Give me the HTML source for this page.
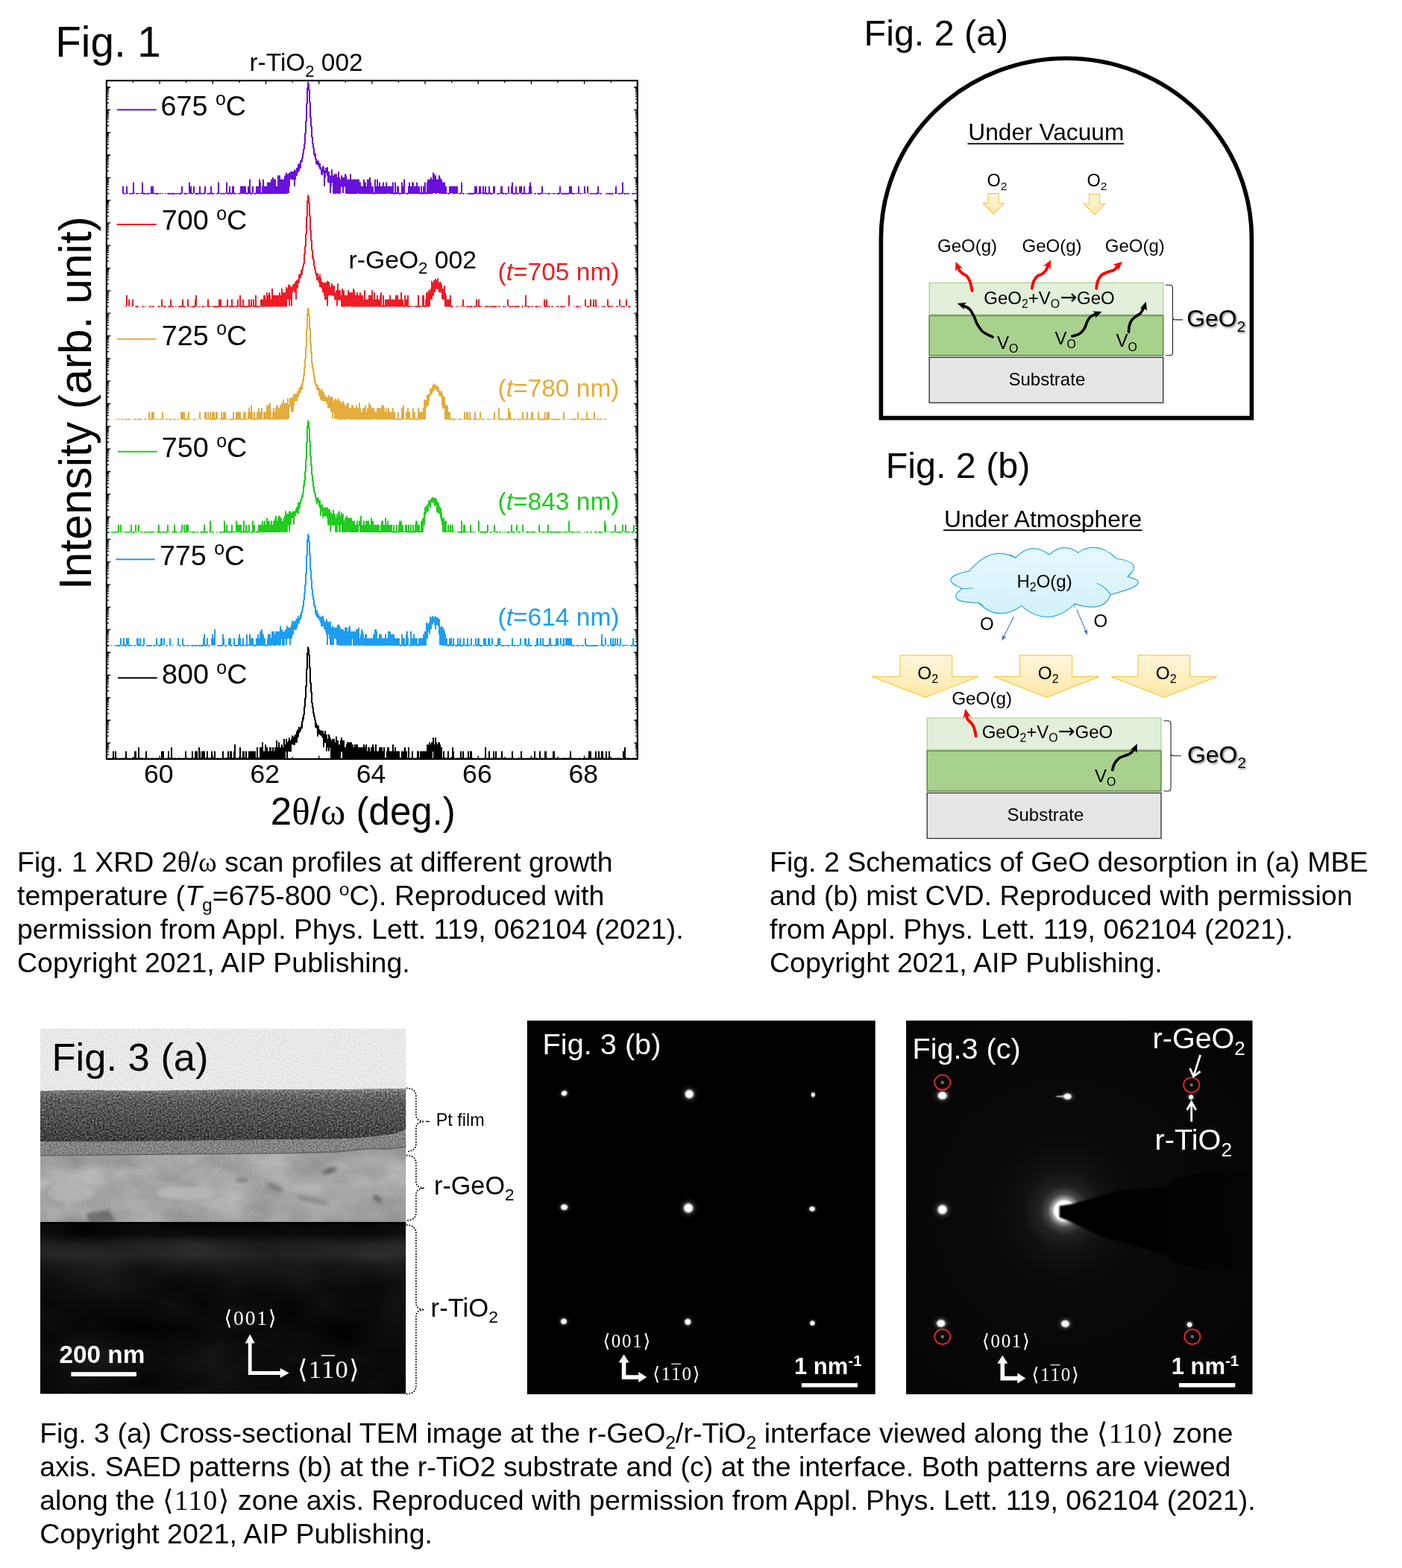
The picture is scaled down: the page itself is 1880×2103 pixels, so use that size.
<!DOCTYPE html>
<html lang="en"><head><meta charset="utf-8"><title>Figures</title>
<style>
html,body{margin:0;padding:0;background:#fff;}
body{width:1880px;height:2103px;overflow:hidden;font-family:"Liberation Sans",sans-serif;}
svg{display:block;position:absolute;left:0;top:0;}
text{white-space:pre;}
</style></head><body>
<svg width="1880" height="2103" viewBox="0 0 1880 2103" font-family='"Liberation Sans", sans-serif'>
<rect width="1880" height="2103" fill="#fff"/>
<g id="fig1" font-family='"Liberation Sans", sans-serif'>
<text x="74.3" y="76.3" font-size="56.6">Fig. 1</text>
<text x="334.5" y="95.3" font-size="33.4">r-TiO<tspan dy="7.35" font-size="22.04">2</tspan><tspan dy="-7.35"> 002</tspan></text>
<text x="467.5" y="359.8" font-size="33.7">r-GeO<tspan dy="7.41" font-size="22.24">2</tspan><tspan dy="-7.41"> 002</tspan></text>
<clipPath id="c1"><rect x="142.9" y="108.1" width="711.9" height="909.9"/></clipPath>
<g clip-path="url(#c1)">
<path d="M165 258.9V249.8V258.9H166V259.7H167V258.9V259.7M169 259.7V258.9H170V249.8V258.9H171V259.7M174 259.7V258.9V259.7H175V258.9V259.7M177 259.7V258.9V259.7H178V258.9H179V244.4V258.9H180V259.7M183 259.7V258.9V259.7H184V258.9V259.7M186 259.7V258.9V259.7h0.01M188 259.7V258.9V259.7h0.01M190 259.7V258.9H191V244.4V258.9H192V259.7H193V258.9V259.7H194V258.9V259.7H195V258.9V259.7M197 259.7V258.9V259.7H198V258.9V259.7H199V258.9V259.7H200V258.9V259.7M202 259.7V258.9H203V249.8V258.9H204V259.7V258.9H205V249.8V258.9H206V259.7H207V258.9V259.7M209 259.7V258.9V259.7H210V258.9V259.7H211V258.9V259.7H212V258.9V259.7M214 259.7V258.9V259.7h0.01M216 259.7V258.9V259.7h0.01M218 259.7V258.9V259.7h0.01M222 259.7V258.9V259.7h0.01M225 259.7V258.9V259.7H226V258.9V259.7H227V258.9V259.7H228V258.9V259.7H229V258.9V259.7H230V258.9V259.7H231V258.9V259.7H232V258.9V259.7H233V258.9V259.7H234V258.9V259.7H235V258.9V259.7M237 259.7V258.9V259.7H238V258.9V259.7M240 259.7V258.9V259.7H241V258.9V259.7H242V258.9V259.7H243V258.9H244V249.8V258.9M247 259.7V258.9V259.7H248V258.9V259.7H249V258.9V259.7H250V258.9V259.7M252 259.7V258.9V259.7h0.01M254 258.9V244.4V258.9H255V259.7V258.9H256V249.8V258.9H257V259.7H258V258.9V259.7M260 258.9V249.8V258.9h0.01M262 259.7V258.9V259.7H263V258.9V259.7H264V258.9V259.7H265V258.9V259.7H266V258.9V259.7H267V258.9H268V249.8V258.9H269V259.7H270V258.9V259.7M272 259.7V258.9V259.7H273V258.9V259.7H274V258.9H275V249.8V258.9M278 259.7V258.9V259.7H279V258.9V259.7H280V258.9V259.7H281V258.9V259.7H282V258.9H283V249.8V258.9H284V259.7H285V258.9V259.7H286V258.9V259.7M288 259.7V258.9V259.7h0.01M291 259.7V258.9V259.7H292V258.9H293V244.4V258.9H294V259.7M296 259.7V258.9V259.7H297V258.9V259.7M299 259.7V258.9V259.7H300V258.9V259.7H301V258.9V259.7M303 259.7V258.9H304V244.4V258.9H305V259.7H306V258.9V259.7H307V258.9H308V249.8V258.9H309V259.7H310V258.9V259.7H311V258.9H312V249.8V258.9H313V249.8V258.9H314V259.7H315V258.9V259.7H316V258.9V259.7M319 259.7V258.9V259.7h0.01M321 259.7V258.9V259.7H322V258.9H323V249.8V250.6H324V249.8V250.6H325V258.9V259.7V258.9H326V249.8V258.9H327V249.8V258.9H328V259.7V258.9H329V249.8V258.9H330V259.7H331V258.9V259.7H332V258.9H333V249.8V258.9H334V259.7V258.9H335V240.6V258.9H336V259.7H337V258.9V259.7H338V258.9H339V249.8V258.9M341 259.7V258.9V259.7H342V258.9V259.7H343V258.9H344V249.8V258.9H345V249.8V258.9H346V249.8V258.9H347V249.8V258.9H348V240.6V258.9H349V244.4V258.9H350V259.7H351V258.9H352V249.8V258.9H353V240.6V258.9H354V259.7V258.9H355V249.8V258.9H356V259.7V258.9H357V249.8V258.9H358V259.7V258.9H359V244.4V258.9H360V244.4V258.9H361V249.8V258.9H362V244.4V258.9H363V259.7V258.9H364V240.6V258.9H365V249.8V258.9H366V237.7V258.9H367V240.6V258.9H368V249.8V258.9H369V240.6V258.9H370V249.8V258.9H371V259.7V258.9H372V249.8V258.9H373V235.3V258.9H374V249.8V258.9H375V235.3V258.9H376V240.6V258.9H377V240.6V258.9H378V240.6V258.9H379V240.6V258.9H380V240.6V258.9H381V249.8V258.9H382V235.3V258.9H383V244.4V258.9H384V231.5V258.9H385V235.3V249.8H386V233.3V249.8H387V258.9V233.3V249.8H388V231.5V237.7H389V235.3V237.7H390V240.6V230V237.7H391V230V237.7H392V240.6V231.5V240.6H393V230V237.7H394V230V237.7H395V227.3V249.8V240.6H396V228.6V235.3H397V231.5V235.3H398V225.1V231.5H399V225.1V226.2H400V220.1V226.2H401V230V219.5V225.1H402V220.8V225.1H403V215.5V217.6H404V214.6V216.5H405V211.4H406V210V205.7H407V204.8V200.2H408V195.9V192.9H409V188.9V178.9H410V175.4V162.2H411V158.2V139.4H412V132.9V117.7H413V113.2V109.7V113.2H414V111.9V120.7H415V124.4V137.6H416V142.6V157.5H417V161V169.7H418V173.6V183.8H419V187.3V192.6H420V194.4V198.4H421V200.4V207.1H422V205.9V209.4H423V205.7V213.3H424V216V219.5H425V220.8V215V220.1H426V216V220.1H427V221.6V215.5V221.6H428V220.1V224.1H429V226.2V218.8V226.2H430V227.3V224.1V227.3H431V228.6V233.3H432V235.3V226.2V230H433V222.4V230H434V231.5V224.1V231.5H435V228.6V249.8V237.7H436V231.5H437V230V225.1V230H438V231.5H439V235.3V224.1V235.3H440V233.3V244.4H441V230V237.7H442V235.3V237.7H443V235.3V258.9V249.8H444V235.3V237.7H445V227.3V237.7H446V240.6V244.4H447V235.3V258.9H448V244.4V258.9H449V233.3V258.9H450V235.3V258.9H451V233.3V249.8H452V240.6V249.8H453V258.9V237.7V258.9H454V230V258.9H455V237.7V258.9H456V240.6V249.8H457V244.4V249.8H458V235.3V249.8H459V237.7V249.8H460V258.9V249.8H461V237.7V249.8H462V237.7V244.4H463V233.3V244.4H464V235.3V258.9H465V249.8V258.9H466V240.6V258.9H467V240.6V258.9H468V240.6V258.9H469V249.8V258.9H470V233.3V258.9H471V244.4V258.9H472V240.6V258.9H473V240.6V258.9H474V244.4V258.9H475V240.6V258.9H476V244.4V258.9H477V240.6V258.9H478V240.6V258.9H479V240.6V249.8H480V244.4V249.8H481V240.6V258.9H482V259.7V258.9H483V244.4V258.9H484V249.8V258.9H485V249.8V258.9H486V249.8V258.9H487V259.7V258.9H488V240.6V258.9H489V249.8V258.9H490V244.4V258.9H491V249.8V258.9H492V249.8V258.9H493V240.6V258.9H494V249.8V258.9H495V240.6V258.9H496V237.7V258.9H497V244.4V258.9H498V249.8V258.9H499V249.8V258.9H500V249.8V258.9H501V259.7H502V258.9H503V240.6V258.9H504V259.7V258.9H505V249.8V258.9H506V240.6V258.9H507V249.8V258.9H508V249.8V258.9H509V244.4V258.9H510V249.8V258.9H511V249.8V258.9H512V249.8V258.9H513V249.8V258.9H514V244.4V258.9H515V249.8V258.9H516V249.8V258.9H517V249.8V258.9H518V244.4V258.9H519V249.8V258.9M521 258.9V249.8V258.9H522V259.7V258.9H523V249.8V258.9H524V259.7V258.9H525V249.8V258.9H526V259.7V258.9H527V244.4V258.9H528V259.7H529V258.9H530V244.4V258.9H531V259.7H532V258.9H533V249.8V258.9H534V249.8V258.9H535V259.7H536V258.9V259.7H537V258.9V259.7H538V258.9H539V244.4V258.9H540V249.8V258.9H541V259.7V258.9H542V240.6V258.9H543V259.7M545 259.7V258.9V259.7H546V258.9V259.7H547V258.9H548V249.8V258.9H549V244.4V258.9H550V249.8V258.9H551V249.8V258.9H552V259.7V258.9H553V244.4V258.9H554V244.4V258.9H555V259.7V258.9H556V249.8V258.9H557V249.8V258.9H558V259.7V258.9H559V244.4V258.9H560V259.7V258.9H561V249.8V258.9H562V249.8V258.9H563V259.7H564V258.9H565V249.8V258.9H566V259.7H567V258.9H568V249.8V258.9H569V259.7V258.9H570V244.4V258.9H571V259.7H572V258.9H573V244.4V258.9H574V240.6V258.9H575V259.7V258.9H576V240.6V258.9H577V240.6V258.9H578V237.7V258.9H579V244.4V258.9H580V240.6V244.4H581V231.5V244.4H582V233.3V258.9V249.8H583V235.3V249.8H584V258.9V235.3V258.9H585V240.6V249.8H586V240.6V249.8H587V240.6V258.9V249.8H588V244.4V249.8H589V258.9V235.3V258.9H590V237.7V249.8H591V240.6V249.8H592V240.6V258.9H593V244.4V258.9H594V244.4V258.9H595V249.8V258.9H596V244.4V258.9H597V249.8V258.9H598V249.8V258.9H599V259.7M601 259.7V258.9V259.7H602V258.9H603V249.8V258.9M605 258.9V249.8V258.9h0.01M607 258.9V249.8V258.9H608V259.7V258.9H609V249.8V258.9H610V249.8V258.9H611V259.7V258.9H612V249.8V258.9H613V249.8V258.9M615 259.7V258.9V259.7h0.01M617 259.7V258.9V259.7H618V258.9H619V244.4V258.9M621 259.7V258.9V259.7H622V258.9V259.7M626 259.7V258.9V259.7h0.01M628 259.7V258.9V259.7H629V258.9V259.7H630V258.9V259.7H631V258.9V259.7H632V258.9V259.7H633V258.9V259.7H634V258.9V259.7H635V258.9V259.7H636V258.9H637V249.8V258.9H638V259.7V258.9H639V249.8V258.9M641 259.7V258.9V259.7H642V258.9H643V249.8V258.9H644V249.8V258.9H645V259.7M647 259.7V258.9H648V249.8V258.9H649V259.7H650V258.9H651V249.8V258.9H652V259.7H653V258.9V259.7H654V258.9V259.7H655V258.9H656V249.8V258.9H657V259.7H658V258.9V259.7H659V258.9V259.7H660V258.9V259.7M662 258.9V249.8V258.9H663V249.8V258.9M667 259.7V258.9V259.7H668V258.9V259.7H669V258.9V259.7M671 259.7V258.9H672V249.8V258.9H673V249.8V258.9H674V259.7H675V258.9V259.7H676V258.9V259.7M678 259.7V258.9V259.7H679V258.9V259.7H680V258.9V259.7M682 258.9V249.8V258.9h0.01M684 259.7V258.9V259.7h0.01M686 258.9V249.8V258.9H687V244.4V258.9H688V259.7H689V258.9V259.7H690V258.9V259.7H691V258.9H692V249.8V258.9H693V259.7H694V258.9V259.7H695V258.9V259.7M697 258.9V249.8V258.9h0.01M699 258.9V249.8V258.9H700V259.7H701V258.9V259.7H702V258.9H703V249.8V258.9H704V259.7H705V258.9V259.7H706V258.9V259.7M708 259.7V258.9V259.7H709V258.9H710V249.8V258.9H711V244.4V258.9H712V249.8V258.9H713V259.7M717 259.7V258.9V259.7H718V258.9V259.7M721 259.7V258.9V259.7H722V258.9V259.7H723V258.9V259.7H724V258.9V259.7H725V258.9V259.7H726V258.9H727V249.8V258.9M729 259.7V258.9V259.7h0.01M731 259.7V258.9V259.7h0.01M733 259.7V258.9V259.7h0.01M735 259.7V258.9V259.7H736V258.9V259.7H737V258.9V259.7M740 259.7V258.9V259.7h0.01M742 259.7V258.9V259.7H743V258.9V259.7M745 259.7V258.9V259.7h0.01M747 259.7V258.9V259.7H748V258.9V259.7H749V258.9V259.7H750V258.9H751V249.8V258.9M753 259.7V258.9V259.7H754V258.9V259.7H755V258.9V259.7H756V258.9V259.7H757V258.9V259.7H758V258.9V259.7H759V258.9V259.7H760V258.9V259.7H761V258.9V259.7H762V258.9V259.7H763V258.9H764V249.8V258.9H765V259.7V258.9H766V249.8V258.9H767V259.7H768V258.9V259.7H769V258.9V259.7M771 259.7V258.9V259.7h0.01M773 259.7V258.9V259.7h0.01M775 259.7V258.9H776V249.8V258.9M778 259.7V258.9V259.7H779V258.9V259.7M782 259.7V258.9V259.7h0.01M784 258.9V249.8V258.9H785V259.7M788 258.9V249.8V258.9h0.01M790 259.7V258.9V259.7h0.01M792 259.7V258.9V259.7H793V258.9V259.7M795 259.7V258.9V259.7H796V258.9V259.7M798 259.7V258.9V259.7H799V258.9V259.7H800V258.9V259.7H801V258.9H802V249.8V258.9H803V259.7M805 259.7V258.9V259.7H806V258.9V259.7M813 259.7V258.9V259.7H814V258.9V259.7M816 259.7V258.9V259.7H817V258.9V259.7H818V258.9V259.7H819V258.9V259.7H820V258.9V259.7H821V258.9V259.7H822V258.9V259.7M825 259.7V258.9H826V249.8V258.9M828 259.7V258.9V259.7h0.01M830 259.7V258.9V259.7H831V258.9V259.7M833 259.7V258.9V259.7H834V258.9H835V244.4V258.9M837 259.7V258.9V259.7H838V258.9V259.7H839V258.9V259.7M841 259.7V258.9V259.7H842V258.9V259.7M844 259.7V258.9V259.7h0.01M848 259.7V258.9V259.7H849V258.9V259.7H850V258.9V259.7M852 259.7V258.9V259.7h0.01" fill="none" stroke="#6a0fdc" stroke-width="2" stroke-linejoin="bevel"/>
<path d="M168 411.3V410.5V411.3h0.01M170 410.5V396V410.5h0.01M173 410.5V401.4V410.5h0.01M176 411.3V410.5V411.3h0.01M178 410.5V401.4V410.5h0.01M182 411.3V410.5V411.3H183V410.5V411.3H184V410.5V411.3H185V410.5V411.3M191 411.3V410.5V411.3H192V410.5V411.3M195 411.3V410.5V411.3h0.01M200 411.3V410.5V411.3H201V410.5V411.3M203 411.3V410.5V411.3h0.01M205 411.3V410.5V411.3H206V410.5V411.3M212 411.3V410.5V411.3H213V410.5V411.3M215 411.3V410.5V411.3h0.01M217 410.5V401.4V410.5H218V411.3M220 411.3V410.5V411.3H221V410.5V411.3H222V410.5V411.3M226 411.3V410.5V411.3H227V410.5V411.3H228V410.5H229V401.4V410.5M231 411.3V410.5V411.3H232V410.5V411.3M236 411.3V410.5V411.3h0.01M240 411.3V410.5V411.3H241V410.5V411.3H242V410.5V411.3H243V410.5V411.3H244V410.5H245V401.4V410.5H246V411.3H247V410.5V411.3H248V410.5V411.3M252 410.5V401.4V410.5H253V411.3M256 411.3V410.5V411.3h0.01M258 411.3V410.5V411.3H259V410.5V411.3H260V410.5V411.3H261V410.5H262V401.4V410.5H263V396V410.5M266 411.3V410.5V411.3h0.01M268 411.3V410.5V411.3h0.01M271 411.3V410.5V411.3H272V410.5V411.3H273V410.5V411.3M276 411.3V410.5V411.3h0.01M278 411.3V410.5H279V401.4V410.5H280V411.3H281V410.5V411.3M284 411.3V410.5V411.3h0.01M286 411.3V410.5V411.3H287V410.5V411.3H288V410.5V411.3H289V410.5V411.3H290V410.5V411.3H291V410.5V411.3H292V410.5V411.3H293V410.5H294V401.4V410.5H295V411.3V410.5H296V401.4V410.5H297V411.3H298V410.5V411.3M300 411.3V410.5V411.3H301V410.5V411.3M303 411.3V410.5V411.3H304V410.5H305V401.4V410.5H306V411.3M308 411.3V410.5V411.3H309V410.5V411.3H310V410.5H311V401.4V410.5H312V411.3H313V410.5V411.3H314V410.5V411.3M316 411.3V410.5V411.3H317V410.5V411.3H318V410.5H319V401.4V410.5M321 411.3V410.5H322V396V410.5H323V411.3H324V410.5V411.3H325V410.5H326V401.4V410.5H327V411.3H328V410.5V411.3H329V410.5V411.3H330V410.5V411.3H331V410.5V411.3H332V410.5V411.3H333V410.5H334V401.4V410.5H335V411.3H336V410.5H337V401.4V410.5M339 411.3V410.5H340V401.4V410.5H341V411.3H342V410.5H343V396V410.5H344V411.3H345V410.5V411.3H346V410.5V411.3H347V410.5V411.3H348V410.5V411.3M350 410.5V401.4V410.5H351V401.4V410.5H352V411.3V410.5H353V401.4V410.5H354V396V410.5H355V396V410.5H356V411.3V410.5H357V401.4V410.5H358V392.2V410.5H359V396V410.5H360V401.4V410.5H361V392.2V410.5H362V396V410.5H363V411.3V410.5H364V401.4V410.5H365V386.9V410.5H366V411.3V410.5H367V396V402.2H368V401.4V402.2H369V396V410.5H370V396V410.5H371V401.4V410.5H372V396V410.5H373V411.3V410.5H374V396V410.5H375V392.2V410.5H376V396V410.5H377V396V410.5H378V386.9V410.5H379V392.2V410.5H380V396V410.5H381V392.2V410.5H382V396V410.5H383V392.2V410.5H384V384.9V392.2H385V386.9V392.2H386V386.9V401.4V392.2H387V381.6V392.2H388V386.9V410.5V401.4H389V383.1V392.2H390V389.3V392.2H391V384.9V410.5V392.2H392V384.9V389.3H393V381.6V384.9H394V381.6V384.9H395V380.2V392.2V384.9H396V378.9V384.9H397V376.7V401.4V383.1H398V375.7V383.1H399V386.9V376.7V378.9H400V374V378.9H401V368.1V371.7H402V370.4V371.7H403V373.2V367.1V368.1H404V361.9V368.1H405V361.9H406V360.7V357.7H407V356.8V353.5H408V347.6V340.8H409V340.3V330.1H410V327.1V313.8H411V309.6V290.9H412V284.4V269.3H413V264.8V261.2V264.8H414V263.5V272.4H415V276.1V289.3H416V294.4V309H417V312.1V322.4H418V325.2V335.5H419V338.2V345.7H420V344.2V348.7H421V350.3V356.6H422V357.3V360.7H423V360.4V366.2H424V369.2H425V366.6V375.7V374.8H426V366.2V374.8H427V376.7V371.1V376.7H428V378.9V370.4V378.9H429V384.9V367.6V378.9H430V372.4V378.9H431V384.9H432V386.9V377.8V386.9H433V392.2V380.2V386.9H434V378.9V386.9H435V378.9V396H436V401.4V384.9V401.4H437V378.9V392.2H438V381.6V392.2H439V376.7V410.5V396H440V378.9V392.2H441V377.8V392.2H442V396V383.1V392.2H443V384.9V392.2H444V396V386.9V392.2H445V380.2V392.2H446V396V384.9V396H447V383.1V396H448V383.1V396H449V392.2V401.4H450V396H451V392.2V389.3V392.2H452V410.5V401.4H453V380.2V401.4H454V389.3V401.4H455V389.3V401.4H456V389.3V401.4H457V396V401.4H458V396V410.5H459V386.9V410.5H460V396V410.5H461V389.3V410.5H462V396V410.5H463V401.4H464V396V401.4H465V396V410.5H466V401.4V410.5H467V389.3V410.5H468V392.2V410.5H469V401.4H470V392.2V401.4H471V410.5H472V392.2V410.5H473V392.2V410.5H474V386.9V410.5H475V389.3V410.5H476V401.4V410.5H477V396V410.5H478V411.3V410.5H479V392.2V410.5H480V396V410.5H481V396V410.5H482V396V410.5H483V392.2V410.5H484V396V410.5H485V396V410.5H486V396V410.5H487V401.4V410.5H488V401.4V410.5H489V389.3V410.5H490V411.3V410.5H491V401.4V410.5H492V401.4V410.5H493V401.4V410.5H494V401.4V410.5H495V396V410.5H496V396V410.5H497V411.3V410.5H498V396V410.5H499V389.3V410.5H500V401.4V410.5H501V411.3V410.5H502V392.2V410.5H503V401.4V410.5H504V411.3V410.5H505V401.4V410.5H506V396V410.5H507V411.3V410.5H508V401.4V410.5H509V411.3V410.5H510V396V410.5H511V392.2V410.5H512V411.3H513V410.5H514V396V410.5H515V411.3H516V410.5H517V401.4V410.5H518V401.4V410.5H519V411.3V410.5H520V401.4V410.5H521V411.3V410.5H522V401.4V410.5H523V396V410.5H524V401.4V410.5H525V401.4V410.5M527 410.5V401.4V410.5H528V401.4V410.5H529V401.4V410.5H530V411.3V410.5H531V396V410.5H532V411.3V410.5H533V396V410.5H534V401.4V410.5H535V401.4V410.5H536V411.3V410.5H537V401.4V410.5H538V392.2V410.5H539V411.3V410.5H540V401.4V410.5H541V411.3H542V410.5H543V396V410.5H544V401.4V410.5H545V401.4V410.5H546V411.3V410.5H547V396V410.5H548V411.3H549V410.5V411.3M551 411.3V410.5V411.3h0.01M553 411.3V410.5V411.3h0.01M555 411.3V410.5V411.3h0.01M557 411.3V410.5V411.3H558V410.5V411.3H559V410.5V411.3H560V410.5H561V396V410.5H562V411.3H563V410.5V411.3H564V410.5V411.3M566 411.3V410.5H567V396V410.5H568V396V410.5H569V411.3H570V410.5H571V401.4V410.5H572V392.2V410.5H573V392.2V410.5H574V401.4V410.5H575V389.3V410.5H576V389.3V401.4H577V396H578V386.9V396H579V401.4V376.7V396H580V378.9V396H581V380.2V381.6H582V375.7V381.6H583V377.8V392.2V386.9H584V374V384.9H585V376.7V384.9H586V386.9V375.7V386.9H587V373.2V386.9H588V378.9V386.9H589V392.2V380.2V383.1H590V377.8V383.1H591V378.9V392.2V389.3H592V381.6V389.3H593V401.4V392.2H594V386.9V392.2H595V401.4H596V383.1V401.4H597V392.2V410.5H598V396V410.5H599V401.4V410.5H600V401.4V410.5H601V401.4V410.5H602V401.4V410.5H603V411.3V410.5H604V396V410.5H605V411.3H606V410.5V411.3H607V410.5V411.3M612 411.3V410.5V411.3h0.01M614 411.3V410.5V411.3h0.01M618 411.3V410.5V411.3h0.01M620 411.3V410.5H621V401.4V410.5M623 411.3V410.5V411.3h0.01M626 411.3V410.5V411.3H627V410.5V411.3H628V410.5V411.3M630 411.3V410.5V411.3H631V410.5V411.3H632V410.5V411.3H633V410.5V411.3M636 411.3V410.5V411.3H637V410.5V411.3H638V410.5H639V401.4V410.5M641 411.3V410.5H642V401.4V410.5H643V411.3H644V410.5V411.3M646 411.3V410.5V411.3h0.01M651 411.3V410.5V411.3H652V410.5V411.3H653V410.5V411.3H654V410.5V411.3M656 411.3V410.5V411.3H657V410.5V411.3M659 411.3V410.5V411.3H660V410.5V411.3H661V410.5V411.3H662V410.5V411.3H663V410.5V411.3H664V410.5V411.3H665V410.5V411.3M667 411.3V410.5V411.3h0.01M669 411.3V410.5V411.3H670V410.5V411.3M675 411.3V410.5V411.3H676V410.5V411.3M678 411.3V410.5V411.3h0.01M681 410.5V401.4V410.5h0.01M683 411.3V410.5V411.3H684V410.5V411.3H685V410.5V411.3M687 411.3V410.5V411.3H688V410.5V411.3M690 411.3V410.5V411.3H691V410.5V411.3H692V410.5V411.3H693V410.5V411.3H694V410.5V411.3H695V410.5V411.3H696V410.5V411.3M700 411.3V410.5V411.3H701V410.5V411.3M704 411.3V410.5H705V396V410.5H706V411.3M708 411.3V410.5V411.3H709V410.5V411.3H710V410.5V411.3M713 411.3V410.5V411.3H714V410.5V411.3M718 411.3V410.5V411.3H719V410.5V411.3H720V410.5V411.3H721V410.5V411.3M723 411.3V410.5V411.3h0.01M725 411.3V410.5V411.3h0.01M730 410.5V401.4V410.5H731V411.3H732V410.5H733V401.4V410.5H734V411.3M736 411.3V410.5V411.3H737V410.5V411.3M740 411.3V410.5V411.3H741V410.5V411.3M746 411.3V410.5V411.3h0.01M748 411.3V410.5V411.3H749V410.5V411.3M752 411.3V410.5V411.3H753V410.5V411.3H754V410.5V411.3M756 411.3V410.5V411.3H757V410.5V411.3M763 410.5V396V410.5h0.01M770 411.3V410.5V411.3h0.01M773 411.3V410.5V411.3H774V410.5V411.3H775V410.5V411.3H776V410.5V411.3M779 411.3V410.5V411.3h0.01M785 410.5V401.4V410.5h0.01M787 411.3V410.5V411.3H788V410.5V411.3H789V410.5V411.3M791 411.3V410.5H792V401.4V410.5M795 411.3V410.5H796V401.4V410.5M798 411.3V410.5H799V401.4V410.5H800V411.3M803 411.3V410.5V411.3h0.01M807 411.3V410.5V411.3h0.01M809 411.3V410.5V411.3H810V410.5V411.3M812 411.3V410.5V411.3h0.01M815 410.5V401.4V410.5H816V411.3H817V410.5V411.3H818V410.5V411.3M820 411.3V410.5V411.3H821V410.5V411.3M827 411.3V410.5V411.3H828V410.5V411.3M831 410.5V401.4V410.5h0.01M833 411.3V410.5V411.3H834V410.5V411.3M836 411.3V410.5V411.3H837V410.5V411.3M840 410.5V401.4V410.5h0.01M843 411.3V410.5V411.3H844V410.5V411.3H845V410.5V411.3" fill="none" stroke="#ee1c25" stroke-width="2" stroke-linejoin="bevel"/>
<path d="M155 562.5V561.7V562.5h0.01M158 562.5V561.7V562.5H159V561.7V562.5M163 562.5V561.7V562.5H164V561.7V562.5M166 562.5V561.7V562.5h0.01M168 562.5V561.7V562.5H169V561.7V562.5M171 562.5V561.7V562.5H172V561.7V562.5H173V561.7V562.5H174V561.7V562.5M179 562.5V561.7V562.5h0.01M181 562.5V561.7V562.5H182V561.7V562.5M184 562.5V561.7V562.5h0.01M186 562.5V561.7V562.5H187V561.7V562.5H188V561.7V562.5M190 562.5V561.7V562.5h0.01M194 562.5V561.7V562.5H195V561.7V562.5M197 562.5V561.7V562.5h0.01M200 561.7V552.6V561.7H201V562.5H202V561.7V562.5H203V561.7H204V552.6V561.7H205V562.5V561.7H206V552.6V561.7M208 562.5V561.7V562.5h0.01M210 562.5V561.7V562.5H211V561.7V562.5M213 562.5V561.7V562.5h0.01M215 562.5V561.7V562.5H216V561.7V562.5M218 561.7V552.6V561.7H219V562.5M223 562.5V561.7V562.5H224V561.7V562.5M227 562.5V561.7V562.5H228V561.7V562.5H229V561.7V562.5M232 562.5V561.7V562.5h0.01M234 562.5V561.7V562.5H235V561.7V562.5M238 562.5V561.7V562.5H239V561.7V562.5M243 561.7V552.6V561.7H244V552.6V561.7H245V562.5V561.7H246V552.6V561.7H247V552.6V561.7H248V562.5H249V561.7V562.5H250V561.7V562.5H251V561.7V562.5H252V561.7H253V552.6V561.7M255 562.5V561.7V562.5h0.01M260 562.5V561.7V562.5H261V561.7V562.5H262V561.7V562.5M265 562.5V561.7V562.5h0.01M268 561.7V552.6V561.7h0.01M270 562.5V561.7V562.5h0.01M275 561.7V552.6V561.7H276V552.6V561.7M278 562.5V561.7H279V552.6V561.7M281 562.5V561.7H282V552.6V561.7H283V562.5H284V561.7H285V552.6V561.7H286V552.6V561.7H287V552.6V561.7H288V562.5H289V561.7H290V552.6V561.7H291V552.6V561.7M294 562.5V561.7V562.5h0.01M296 562.5V561.7H297V552.6V561.7H298V562.5H299V561.7H300V552.6V561.7H301V562.5V561.7H302V552.6V561.7H303V562.5M305 562.5V561.7V562.5h0.01M307 562.5V561.7V562.5h0.01M309 562.5V561.7V562.5H310V561.7V562.5H311V561.7V562.5H312V561.7H313V552.6V561.7M315 562.5V561.7V562.5H316V561.7H317V552.6V561.7H318V562.5V561.7H319V552.6V561.7H320V552.6V561.7H321V552.6V561.7H322V552.6V561.7H323V562.5H324V561.7V562.5H325V561.7V562.5H326V561.7H327V552.6V561.7H328V562.5V561.7H329V552.6V561.7H330V562.5H331V561.7V562.5M333 561.7V552.6V561.7H334V547.2V561.7M336 561.7V552.6V561.7H337V543.4V561.7H338V552.6V561.7H339V562.5H340V561.7H341V552.6V561.7H342V562.5H343V561.7V562.5H344V561.7H345V552.6V561.7H346V552.6V561.7H347V547.2V561.7H348V552.6V561.7H349V552.6V561.7H350V562.5V561.7H351V547.2V561.7M353 562.5V561.7H354V552.6V561.7H355V552.6V561.7H356V552.6V561.7H357V552.6H358V543.4V552.6H359V561.7H360V543.4V561.7H361V552.6V561.7H362V540.5V561.7H363V552.6V561.7H364V562.5H365V561.7H366V552.6V561.7H367V547.2V561.7H368V552.6V561.7H369V552.6V561.7H370V547.2V561.7H371V543.4V561.7H372V543.4V561.7H373V547.2V561.7H374V547.2V561.7H375V547.2V561.7H376V543.4V561.7H377V547.2V561.7H378V540.5V561.7H379V540.5V561.7H380V536.1V561.7H381V540.5V561.7H382V543.4V561.7H383V540.5V561.7H384V540.5V561.7H385V540.5V543.4H386V534.3V543.4H387V547.2V561.7V547.2H388V543.4H389V534.3V543.4H390V534.3V543.4H391V552.6V532.8V547.2H392V532.8V547.2H393V552.6V532.8V543.4H394V527.9V536.1H395V529V536.1H396V538.1V532.8H397V527.9V532.8H398V538.1V532.8H399V531.4V524.4V531.4H400V532.8V525.2V527.9H401V520.4V526H402V520.4V526H403V526.9V518.3V520.4H404V516.9V520.4H405V522.9V513.8V515.3H406V509.2V510.5H407V503.5H408V501.3V492.1V492.8H409V481.3H410V477.7V465.5H411V461.2V442.2H412V435.9V420.5H413V415.9V412.5V415.9H414V414.7V423.4H415V427.3V440.5H416V445.4V460.4H417V464.1V473.5H418V475.6V487H419V488.4V493.8H420V496.9V499.6H421V502.6V505.6H422V506.9V512.5H423V511.6V516.5H424V515.3V517.8H425V517.4V522.3H426V515.7V522.3H427V523.6V520.4V523.6H428V519.9V531.4V529H429V521.6V529H430V524.4V536.1V529H431V523.6V529H432V522.3V538.1V536.1H433V529V536.1H434V538.1V526V534.3H435V529V534.3H436V536.1V538.1V536.1H437V534.3V531.4V534.3H438V540.5H439V532.8V540.5H440V534.3V547.2V543.4H441V530.1V543.4H442V547.2V532.8V538.1H443V532.8V538.1H444V536.1V552.6V547.2H445V531.4V547.2H446V534.3V561.7V543.4H447V538.1V543.4H448V552.6H449V561.7V536.1V547.2H450V534.3V547.2H451V536.1V561.7V547.2H452V540.5V547.2H453V538.1V561.7H454V534.3V561.7H455V543.4V561.7H456V538.1V561.7H457V540.5V561.7H458V540.5V561.7H459V547.2V561.7H460V538.1V561.7H461V540.5V561.7H462V547.2V561.7H463V543.4V561.7H464V543.4V561.7H465V543.4V552.6H466V540.5V552.6H467V561.7V540.5V561.7H468V547.2V552.6H469V547.2V552.6H470V547.2V561.7H471V547.2V561.7H472V543.4V552.6H473V543.4V552.6H474V547.2V561.7H475V547.2V561.7H476V547.2V561.7H477V552.6V561.7H478V543.4V561.7H479V547.2V561.7H480V552.6V561.7H481V547.2V561.7H482V540.5V561.7H483V547.2V561.7H484V552.6V561.7H485V552.6V561.7H486V552.6V561.7H487V547.2V561.7H488V547.2V561.7H489V547.2V561.7H490V543.4V561.7H491V552.6V561.7H492V562.5V561.7H493V547.2V561.7H494V552.6V561.7H495V540.5V561.7H496V547.2V561.7H497V543.4V561.7H498V547.2V561.7H499V552.6V561.7H500V547.2V561.7H501V547.2V561.7H502V552.6V561.7M504 561.7V552.6V561.7H505V562.5V561.7H506V547.2V561.7H507V562.5V561.7H508V547.2V561.7H509V562.5V561.7H510V547.2V561.7H511V552.6V561.7H512V543.4V561.7H513V562.5V561.7H514V543.4V561.7H515V547.2V561.7H516V552.6V561.7H517V562.5V561.7H518V547.2V561.7H519V562.5V561.7H520V552.6V561.7H521V547.2V561.7H522V552.6V561.7H523V552.6V561.7H524V552.6V561.7H525V552.6V561.7H526V562.5V561.7H527V547.2V561.7H528V552.6V561.7H529V552.6V561.7H530V562.5H531V561.7V562.5H532V561.7V562.5H533V561.7H534V552.6V561.7H535V562.5H536V561.7V562.5H537V561.7V562.5H538V561.7H539V547.2V561.7H540V562.5V561.7H541V543.4V561.7H542V562.5M544 562.5V561.7H545V552.6V561.7H546V552.6V561.7H547V547.2V561.7M549 561.7V552.6V561.7H550V562.5H551V561.7V562.5H552V561.7V562.5H553V561.7H554V547.2V561.7H555V552.6V561.7H556V552.6V561.7H557V562.5H558V561.7V562.5H559V561.7V562.5H560V561.7H561V547.2V561.7H562V562.5V561.7H563V552.6V561.7H564V552.6V561.7H565V552.6V561.7M567 561.7V552.6V561.7H568V547.2V561.7H569V538.1V561.7H570V536.1V547.2H571V536.1V543.4H572V538.1V543.4H573V529V543.4H574V530.1V538.1H575V529V531.4H576V527.9V530.1H577V521.6V526H578V520.4V526H579V529V520.4V524.4H580V518.3V524.4H581V515.7V521.6H582V514.5V521.6H583V522.3V518.3V518.8H584V516.5V518.8H585V516.5V523.6V522.9H586V518.3V522.9H587V524.4V517.4V524.4H588V525.2V519.9V525.2H589V523.6V530.1H590V524.4V530.1H591V524.4V530.1H592V532.8V525.2V532.8H593V527.9V543.4H594V547.2V531.4V547.2H595V531.4V547.2H596V532.8V547.2H597V540.5V561.7H598V543.4V561.7H599V552.6V561.7H600V543.4V561.7H601V552.6V561.7H602V562.5V561.7H603V552.6V561.7H604V562.5H605V561.7V562.5H606V561.7V562.5H607V561.7V562.5H608V561.7V562.5H609V561.7V562.5H610V561.7V562.5M612 562.5V561.7V562.5h0.01M615 562.5V561.7V562.5H616V561.7V562.5H617V561.7V562.5M619 562.5V561.7V562.5h0.01M622 562.5V561.7H623V552.6V561.7H624V562.5M626 561.7V552.6V561.7H627V552.6V561.7H628V562.5H629V561.7H630V552.6V561.7H631V562.5H632V561.7V562.5M635 562.5V561.7V562.5H636V561.7H637V552.6V561.7H638V562.5H639V561.7V562.5M641 562.5V561.7V562.5H642V561.7V562.5M644 561.7V552.6V561.7h0.01M646 562.5V561.7V562.5H647V561.7V562.5H648V561.7V562.5M650 562.5V561.7V562.5h0.01M654 562.5V561.7V562.5H655V561.7V562.5M657 562.5V561.7V562.5h0.01M659 562.5V561.7V562.5h0.01M662 562.5V561.7H663V552.6V561.7H664V562.5M666 562.5V561.7V562.5h0.01M669 561.7V547.2V561.7H670V562.5H671V561.7V562.5H672V561.7V562.5H673V561.7V562.5H674V561.7V562.5H675V561.7V562.5H676V561.7V562.5M678 562.5V561.7V562.5H679V561.7V562.5H680V561.7V562.5H681V561.7H682V547.2V561.7H683V562.5V561.7H684V552.6V561.7H685V562.5H686V561.7V562.5M688 562.5V561.7V562.5H689V561.7V562.5H690V561.7V562.5H691V561.7V562.5M694 562.5V561.7V562.5H695V561.7V562.5H696V561.7V562.5H697V561.7V562.5H698V561.7V562.5H699V561.7V562.5M701 561.7V552.6V561.7H702V562.5H703V561.7V562.5M705 562.5V561.7V562.5H706V561.7H707V552.6V561.7M709 562.5V561.7V562.5H710V561.7V562.5M712 562.5V561.7H713V552.6V561.7H714V552.6V561.7H715V562.5H716V561.7V562.5M718 562.5V561.7V562.5h0.01M721 562.5V561.7H722V552.6V561.7H723V562.5H724V561.7V562.5H725V561.7V562.5H726V561.7V562.5H727V561.7V562.5H728V561.7V562.5H729V561.7V562.5H730V561.7H731V552.6V561.7H732V562.5H733V561.7H734V552.6V561.7H735V562.5V561.7H736V552.6V561.7M738 562.5V561.7V562.5H739V561.7V562.5M741 562.5V561.7V562.5H742V561.7V562.5H743V561.7V562.5H744V561.7V562.5H745V561.7V562.5H746V561.7V562.5H747V561.7V562.5H748V561.7V562.5H749V561.7V562.5H750V561.7V562.5M753 562.5V561.7V562.5h0.01M755 562.5V561.7H756V552.6V561.7M758 562.5V561.7V562.5h0.01M761 562.5V561.7V562.5h0.01M763 562.5V561.7V562.5h0.01M765 562.5V561.7V562.5h0.01M767 562.5V561.7V562.5H768V561.7V562.5H769V561.7V562.5H770V561.7V562.5H771V561.7V562.5H772V561.7V562.5M774 562.5V561.7H775V552.6V561.7M778 562.5V561.7V562.5H779V561.7V562.5H780V561.7V562.5H781V561.7V562.5H782V561.7V562.5H783V561.7V562.5M785 562.5V561.7V562.5H786V561.7H787V552.6V561.7H788V562.5H789V561.7V562.5H790V561.7V562.5H791V561.7V562.5H792V561.7V562.5M794 562.5V561.7V562.5h0.01M796 562.5V561.7H797V552.6V561.7H798V562.5M801 562.5V561.7V562.5H802V561.7V562.5H803V561.7V562.5M805 562.5V561.7V562.5H806V561.7V562.5M808 562.5V561.7V562.5h0.01M811 562.5V561.7V562.5H812V561.7V562.5" fill="none" stroke="#e3ac3c" stroke-width="2" stroke-linejoin="bevel"/>
<path d="M145 713.7V712.9V713.7h0.01M147 713.7V712.9V713.7h0.01M150 713.7V712.9V713.7H151V712.9V713.7M153 713.7V712.9V713.7H154V712.9V713.7M156 713.7V712.9V713.7H157V712.9V713.7H158V712.9H159V703.8V712.9M162 712.9V703.8V712.9H163V713.7M166 713.7V712.9V713.7h0.01M168 713.7V712.9V713.7H169V712.9V713.7M171 713.7V712.9V713.7H172V712.9V713.7M174 713.7V712.9V713.7H175V712.9H176V703.8V712.9M178 713.7V712.9V713.7H179V712.9V713.7H180V712.9V713.7M182 712.9V703.8V712.9h0.01M184 713.7V712.9V713.7h0.01M186 712.9V703.8V712.9h0.01M188 713.7V712.9V713.7h0.01M190 713.7V712.9V713.7H191V712.9V713.7M194 713.7V712.9V713.7H195V712.9V713.7H196V712.9V713.7M198 713.7V712.9V713.7H199V712.9V713.7M201 713.7V712.9V713.7H202V712.9V713.7H203V712.9V713.7H204V712.9V713.7H205V712.9V713.7M207 713.7V712.9V713.7h0.01M211 713.7V712.9V713.7H212V712.9H213V703.8V712.9H214V713.7H215V712.9V713.7H216V712.9V713.7M218 713.7V712.9V713.7H219V712.9V713.7H220V712.9V713.7M222 713.7V712.9V713.7H223V712.9V713.7H224V712.9H225V703.8V712.9M227 713.7V712.9V713.7h0.01M231 713.7V712.9V713.7H232V712.9V713.7H233V712.9H234V703.8V712.9H235V713.7H236V712.9V713.7H237V712.9V713.7M240 713.7V712.9V713.7h0.01M242 713.7V712.9V713.7H243V712.9H244V703.8V712.9M247 712.9V703.8V712.9H248V713.7H249V712.9H250V703.8V712.9H251V713.7V712.9H252V703.8V712.9M254 713.7V712.9V713.7h0.01M256 713.7V712.9V713.7h0.01M258 713.7V712.9V713.7H259V712.9V713.7H260V712.9V713.7H261V712.9V713.7M264 713.7V712.9V713.7H265V712.9V713.7M269 713.7V712.9V713.7H270V712.9V713.7H271V712.9V713.7H272V712.9V713.7H273V712.9H274V703.8V712.9H275V713.7H276V712.9V713.7H277V712.9V713.7H278V712.9V713.7M281 713.7V712.9H282V698.4V712.9H283V713.7M285 713.7V712.9V713.7H286V712.9V713.7M291 713.7V712.9V713.7h0.01M295 713.7V712.9V713.7H296V712.9V713.7H297V712.9V713.7M299 713.7V712.9V713.7H300V712.9H301V698.4V712.9H302V713.7H303V712.9H304V703.8V712.9H305V713.7H306V712.9V713.7H307V712.9V713.7H308V712.9V713.7H309V712.9V713.7H310V712.9H311V703.8V712.9H312V713.7M314 713.7V712.9V713.7H315V712.9V713.7M317 712.9V698.4V712.9H318V713.7V712.9H319V703.8V712.9H320V713.7V712.9H321V703.8V712.9H322V713.7V712.9H323V703.8V712.9H324V713.7H325V712.9V713.7H326V712.9H327V698.4V712.9H328V713.7H329V712.9H330V703.8V712.9H331V713.7H332V712.9V713.7H333V712.9H334V703.8V712.9M336 713.7V712.9V713.7H337V712.9V713.7H338V712.9H339V698.4V712.9H340V713.7V712.9H341V703.8V712.9M343 713.7V712.9V713.7H344V712.9V713.7H345V712.9V713.7H346V712.9H347V703.8V712.9H348V703.8V712.9H349V713.7V712.9H350V703.8V712.9H351V713.7V712.9H352V698.4V712.9H353V713.7V712.9H354V703.8V712.9H355V698.4V712.9H356V703.8V712.9H357V713.7V712.9H358V694.6V712.9H359V713.7V712.9H360V698.4V712.9H361V698.4V712.9H362V703.8V712.9H363V713.7V712.9H364V698.4V712.9H365V703.8V712.9H366V713.7V712.9H367V698.4V712.9H368V698.4V712.9H369V694.6V712.9H370V691.7V712.9H371V703.8H372V698.4V703.8H373V694.6V712.9H374V691.7V712.9H375V691.7V712.9H376V694.6V703.8H377V694.6V703.8H378V698.4V712.9H379V698.4V712.9H380V698.4V712.9H381V694.6V712.9H382V691.7V703.8H383V685.5V703.8H384V712.9V689.3V712.9H385V691.7V703.8H386V689.3V703.8H387V694.6V703.8H388V712.9V685.5V698.4H389V685.5V698.4H390V703.8V691.7V694.6H391V687.3V694.6H392V689.3H393V685.5V689.3H394V703.8V691.7H395V685.5V691.7H396V685.5V687.3H397V682.6V687.3H398V680.2V685.5H399V679.1V685.5H400V689.3V673.5V682.6H401V673.5V680.2H402V674.1V675.6H403V671.6H404V671.1V667.7V668.1H405V663.7V667.3H406V660.4V661.1H407V650.5V652H408V644.2H409V643.1V632.4H410V629.5V616H411V612.1V593.4H412V587V571.6H413V567.2V563.7V567.2H414V565.9V574.6H415V578.5V591.8H416V596.6V611.6H417V614.8V624.2H418V627.9V636.9H419V641V645.4H420V646.7V653.2H421V652V659.2H422V659.4V662.2H423V662.8V667.3H424V666.5V672.2H425V676.4V666.9V674.1H426V671.1V672.8H427V668.1V672.8H428V674.1V678.1H429V681.3V671.1V681.3H430V676.4V691.7V685.5H431V678.1V684H432V676.4V684H433V680.2V694.6V689.3H434V681.3V689.3H435V691.7V681.3V691.7H436V680.2V691.7H437V681.3V687.3H438V681.3V687.3H439V680.2V694.6H440V687.3V703.8H441V682.6V698.4H442V684V698.4H443V689.3V712.9V694.6H444V687.3V694.6H445V691.7V703.8H446V689.3V703.8H447V684V703.8H448V694.6V703.8H449V689.3V703.8H450V698.4V712.9H451V694.6V712.9H452V689.3V703.8H453V694.6V703.8H454V687.3V703.8H455V712.9V685.5V712.9H456V694.6V703.8H457V691.7V698.4H458V687.3V698.4H459V712.9H460V689.3V712.9H461V703.8V712.9H462V698.4V712.9H463V694.6V712.9H464V698.4V703.8H465V691.7V703.8H466V694.6V712.9H467V698.4V703.8H468V694.6V703.8H469V698.4V712.9H470V694.6V712.9H471V694.6V712.9H472V698.4V712.9H473V713.7V712.9H474V698.4V712.9H475V698.4V712.9H476V703.8V712.9H477V703.8V712.9H478V703.8V712.9H479V698.4V712.9H480V703.8V704.6H481V703.8H482V698.4V703.8H483V698.4V712.9H484V691.7V712.9H485V703.8V712.9H486V703.8V712.9H487V703.8V712.9H488V698.4V712.9H489V703.8V712.9H490V703.8V712.9H491V698.4V712.9H492V698.4V712.9H493V703.8V712.9H494V698.4V712.9H495V713.7V712.9H496V703.8V712.9H497V703.8V712.9H498V694.6V712.9H499V703.8V712.9H500V698.4V712.9H501V703.8V712.9H502V703.8V712.9H503V703.8V712.9H504V703.8V712.9H505V703.8V712.9H506V703.8V712.9H507V703.8V712.9H508V703.8V712.9H509V713.7H510V712.9H511V703.8V712.9H512V698.4V712.9H513V698.4V712.9H514V713.7V712.9H515V703.8V712.9H516V713.7V712.9H517V694.6V712.9H518V703.8V712.9H519V713.7V712.9H520V698.4V712.9H521V703.8V712.9H522V713.7V712.9H523V703.8V712.9H524V713.7V712.9H525V703.8V712.9H526V713.7H527V712.9H528V703.8V712.9H529V713.7H530V712.9V713.7H531V712.9H532V703.8V712.9H533V713.7H534V712.9H535V703.8V712.9H536V698.4V712.9H537V713.7V712.9H538V698.4V712.9H539V713.7V712.9H540V703.8V712.9H541V713.7H542V712.9V713.7M544 712.9V703.8V712.9H545V703.8V712.9H546V713.7H547V712.9H548V703.8V712.9H549V713.7H550V712.9H551V703.8V712.9H552V713.7H553V712.9H554V703.8V712.9H555V713.7H556V712.9H557V703.8V712.9H558V698.4V712.9H559V698.4V712.9H560V713.7V712.9H561V703.8V712.9H562V703.8V712.9H563V713.7H564V712.9H565V698.4V712.9H566V698.4V712.9H567V694.6V703.8H568V694.6V703.8H569V687.3V689.3H570V680.2V689.3H571V684H572V682.6V678.1V682.6H573V685.5V678.1V685.5H574V675.6V677.2H575V671.1V677.2H576V676.4V678.1H577V681.3V671.1V673.5H578V669.5V670.5H579V668.1V670.5H580V674.1V666.9V673.5H581V666.9V671.6H582V667.7V671.6H583V671.1V679.1V673.5H584V668.1V673.5H585V677.2V669.5V677.2H586V672.2V687.3V679.1H587V673.5V679.1H588V674.1V687.3H589V689.3V679.1V687.3H590V680.2V687.3H591V681.3V694.6H592V698.4V687.3V698.4H593V694.6V703.8H594V698.4V712.9H595V694.6V712.9H596V703.8V712.9H597V698.4V712.9H598V698.4V712.9M600 713.7V712.9H601V703.8V712.9M603 713.7V712.9H604V703.8V712.9M606 713.7V712.9H607V703.8V712.9H608V713.7M611 713.7V712.9V713.7h0.01M614 713.7V712.9V713.7H615V712.9V713.7H616V712.9V713.7H617V712.9V713.7H618V712.9H619V698.4V712.9H620V713.7H621V712.9H622V703.8V712.9H623V703.8V712.9H624V713.7H625V712.9V713.7M627 713.7V712.9V713.7h0.01M630 713.7V712.9H631V703.8V712.9H632V713.7H633V712.9V713.7M635 713.7V712.9V713.7h0.01M637 713.7V712.9V713.7h0.01M642 712.9V698.4V712.9h0.01M644 713.7V712.9V713.7H645V712.9V713.7H646V712.9V713.7H647V712.9V713.7H648V712.9V713.7H649V712.9V713.7H650V712.9V713.7H651V712.9V713.7H652V712.9V713.7H653V712.9H654V703.8V712.9M658 713.7V712.9V713.7H659V712.9V713.7M662 713.7V712.9H663V703.8V712.9M665 713.7V712.9V713.7H666V712.9V713.7H667V712.9V713.7M670 713.7V712.9V713.7H671V712.9V713.7M674 713.7V712.9V713.7h0.01M677 713.7V712.9V713.7h0.01M680 713.7V712.9V713.7H681V712.9V713.7H682V712.9V713.7H683V712.9V713.7M685 713.7V712.9H686V703.8V712.9H687V713.7H688V712.9V713.7H689V712.9V713.7H690V712.9V713.7M693 712.9V703.8V712.9h0.01M695 713.7V712.9V713.7H696V712.9V713.7H697V712.9V713.7M701 712.9V703.8V712.9H702V713.7M706 713.7V712.9V713.7H707V712.9V713.7H708V712.9V713.7H709V712.9V713.7M711 713.7V712.9V713.7h0.01M713 713.7V712.9V713.7H714V712.9V713.7H715V712.9V713.7H716V712.9V713.7M718 713.7V712.9V713.7h0.01M723 712.9V703.8V712.9H724V713.7M726 713.7V712.9V713.7h0.01M728 713.7V712.9V713.7H729V712.9V713.7H730V712.9V713.7M733 713.7V712.9V713.7H734V712.9H735V703.8V712.9H736V713.7M738 713.7V712.9V713.7H739V712.9V713.7H740V712.9V713.7H741V712.9V713.7M743 713.7V712.9V713.7H744V712.9V713.7H745V712.9V713.7H746V712.9V713.7H747V712.9V713.7H748V712.9V713.7H749V712.9V713.7H750V712.9V713.7H751V712.9V713.7M753 713.7V712.9V713.7h0.01M755 713.7V712.9V713.7h0.01M757 713.7V712.9V713.7H758V712.9V713.7H759V712.9V713.7M761 713.7V712.9V713.7h0.01M763 712.9V698.4V712.9H764V713.7M766 713.7V712.9V713.7H767V712.9V713.7H768V712.9V713.7M770 713.7V712.9V713.7h0.01M772 713.7V712.9V713.7h0.01M774 713.7V712.9V713.7h0.01M776 713.7V712.9V713.7H777V712.9V713.7M784 713.7V712.9V713.7h0.01M787 713.7V712.9V713.7H788V712.9V713.7M792 713.7V712.9V713.7H793V712.9V713.7M798 713.7V712.9V713.7H799V712.9V713.7H800V712.9V713.7M803 713.7V712.9V713.7H804V712.9V713.7H805V712.9V713.7H806V712.9V713.7M808 713.7V712.9V713.7h0.01M811 712.9V698.4V712.9H812V703.8V712.9M814 713.7V712.9V713.7h0.01M817 713.7V712.9V713.7h0.01M819 713.7V712.9V713.7h0.01M821 713.7V712.9V713.7H822V712.9V713.7M824 713.7V712.9H825V703.8V712.9M827 713.7V712.9V713.7H828V712.9V713.7M830 713.7V712.9V713.7H831V712.9V713.7H832V712.9V713.7H833V712.9V713.7M835 712.9V703.8V712.9h0.01M838 713.7V712.9H839V703.8V712.9H840V713.7H841V712.9V713.7M843 713.7V712.9V713.7H844V712.9V713.7M847 713.7V712.9V713.7H848V712.9V713.7H849V712.9H850V703.8V712.9M853 713.7V712.9V713.7h0.01" fill="none" stroke="#1fcc1f" stroke-width="2" stroke-linejoin="bevel"/>
<path d="M145 865.9V865.1V865.9H146V865.1V865.9M149 865.9V865.1V865.9h0.01M154 865.9V865.1V865.9h0.01M156 865.9V865.1V865.9H157V865.1V865.9H158V865.1V865.9H159V865.1V865.9H160V865.1V865.9H161V865.1H162V856V865.1M164 865.9V865.1V865.9H165V865.1H166V856V865.1H167V865.9H168V865.1V865.9H169V865.1H170V856V865.1M172 865.1V856V865.1H173V865.9H174V865.1V865.9H175V865.1V865.9M177 865.9V865.1V865.9h0.01M180 865.9V865.1V865.9H181V865.1V865.9M184 865.1V856V865.1H185V856V865.1H186V865.9H187V865.1H188V856V865.1H189V865.9M191 865.9V865.1V865.9H192V865.1H193V856V865.1M197 865.9V865.1V865.9H198V865.1V865.9H199V865.1V865.9H200V865.1V865.9H201V865.1V865.9H202V865.1V865.9H203V865.1V865.9M206 865.9V865.1V865.9H207V865.1V865.9H208V865.1V865.9M210 865.1V856V865.1H211V865.9M213 865.9V865.1V865.9H214V865.1V865.9H215V865.1H216V856V865.1H217V856V865.1H218V865.9M220 865.1V856V865.1h0.01M223 865.9V865.1V865.9H224V865.1V865.9M228 865.1V856V865.1H229V865.9M232 865.9V865.1V865.9h0.01M238 865.9V865.1H239V856V865.1M241 865.9V865.1V865.9H242V865.1V865.9M245 865.1V856V865.1H246V865.9H247V865.1V865.9M249 865.9V865.1V865.9h0.01M251 865.9V865.1V865.9H252V865.1V865.9M254 865.9V865.1V865.9h0.01M257 865.9V865.1V865.9H258V865.1V865.9H259V865.1V865.9H260V865.1V865.9M262 865.9V865.1V865.9H263V865.1V865.9H264V865.1V865.9H265V865.1V865.9M267 865.9V865.1V865.9H268V865.1V865.9H269V865.1V865.9H270V865.1V865.9H271V865.1V865.9H272V865.1H273V856V865.1H274V850.6V865.1H275V865.9H276V865.1V865.9H277V865.1H278V856V865.1M280 865.9V865.1V865.9H281V865.1V865.9M284 865.1V856V865.1H285V850.6V865.1M287 865.1V856V865.1H288V843.9V865.1M292 865.9V865.1V865.9H293V865.1V865.9H294V865.1V865.9M296 865.9V865.1V865.9H297V865.1V865.9H298V865.1H299V850.6V865.1H300V856V865.1M302 865.9V865.1V865.9H303V865.1V865.9H304V865.1V865.9M307 865.1V856V865.1H308V865.9V865.1H309V856V865.1H310V865.9H311V865.1V865.9M314 865.1V856V865.1H315V865.9H316V865.1V865.9H317V865.1V865.9H318V865.1V865.9H319V865.1H320V856V865.1H321V850.6V865.1H322V856V865.1H323V865.9H324V865.1V865.9H325V865.1H326V856V865.1H327V865.9M329 865.9V865.1V865.9H330V865.1H331V850.6V865.1H332V865.9M334 865.9V865.1H335V850.6V865.1H336V856V865.1H337V856V865.1H338V856V865.1H339V856V865.1H340V865.9H341V865.1V865.9H342V865.1V865.9H343V865.1H344V856V865.1H345V865.9V865.1H346V850.6V865.1H347V856V865.1H348V856V865.1H349V846.8V865.1H350V856V865.1H351V843.9V865.1H352V850.6V865.1H353V850.6V865.1H354V856V865.1H355V856V865.1H356V865.9H357V865.1V865.9H358V865.1H359V856V865.1H360V850.6V865.1H361V850.6V865.1H362V850.6V865.1H363V856V865.1H364V856H365V846.8V856H366V850.6V865.1H367V846.8V865.1H368V850.6V865.1H369V865.9V865.1H370V846.8V856H371V850.6V856H372V846.8V865.1V856H373V850.6V856H374V846.8V865.1H375V850.6V865.1H376V839.5V856H377V843.9V856H378V843.9V856H379V846.8V865.1H380V846.8V865.1H381V846.8V856H382V846.8V856H383V843.9V856H384V846.8V865.1V856H385V839.5V856H386V841.5V850.6H387V843.9V850.6H388V856V841.5V856H389V865.1V841.5V856H390V841.5V856H391V837.7V850.6H392V832.4V850.6H393V839.5H394V833.5V839.5H395V837.7V843.9H396V832.4V843.9H397V831.3V841.5H398V829.4V837.7H399V830.3V833.5H400V825.7V833.5H401V836.2V828.6V831.3H402V828.6V830.3H403V823.8V827.8H404V820.8V822.2H405V818.3H406V816.2V812.3V813.3H407V804.6V804.7H408V796.1H409V794.9V784.5H410V780.2V768.7H411V764.2V745.5H412V739.1V723.8H413V719.3V715.9V719.3H414V718.1V726.9H415V730.7V744.2H416V748.8V763.9H417V767.1V777.3H418V781.1V790.2H419V791.5V798.2H420V799.2V804.1H421V806.9V812.6H422V811.4V814.1H423V812.1V822.7H424V825V817.9V825H425V827.8V818.3V827H426V822.2V827H427V829.4V824.4V829.4H428V825.7V829.4H429V832.4H430V834.8V827V834.8H431V839.5V827V839.5H432V831.3V836.2H433V825.7V836.2H434V839.5V830.3V839.5H435V836.2V843.9V839.5H436V833.5V839.5H437V836.2V846.8H438V850.6V830.3V850.6H439V836.2V865.1V843.9H440V833.5V843.9H441V850.6V834.8V850.6H442V856V841.5V856H443V865.1V833.5V856H444V850.6V856H445V865.1V841.5V850.6H446V839.5V850.6H447V846.8V865.1V856H448V841.5V846.8H449V841.5V846.8H450V841.5V856H451V841.5V856H452V846.8V865.1V846.8H453V843.9V837.7V843.9H454V837.7V865.1H455V839.5V850.6H456V841.5V850.6H457V865.1H458V843.9V865.1H459V846.8V865.1H460V843.9V856H461V846.8V856H462V850.6V865.1H463V841.5V865.1H464V846.8V865.1H465V841.5V865.1H466V856H467V846.8V856H468V865.1V841.5V865.1H469V839.5V865.1H470V846.8V865.1H471V846.8V856H472V846.8V856H473V846.8V856H474V846.8V865.1H475V856V865.1H476V846.8V865.1H477V850.6V865.1H478V843.9V856H479V846.8V856H480V865.1V843.9V865.1H481V841.5V865.1H482V865.9V865.1H483V856V865.1H484V850.6V856H485V843.9V856H486V846.8V865.1H487V850.6V865.1H488V856V865.1H489V865.9V865.1H490V850.6V865.1H491V850.6V865.1H492V856V865.1H493V856V865.1H494V856V865.1H495V865.9V865.1H496V856V865.1H497V856V865.1H498V865.9V865.1H499V856V865.1H500V856V865.1H501V850.6V865.1H502V856V865.1H503V843.9V865.1H504V843.9V865.1H505V846.8V865.1H506V856V865.1H507V865.9V865.1H508V856V865.1H509V850.6V865.1H510V856V865.1H511V850.6V865.1H512V856V865.1H513V856V865.1H514V865.9V865.1H515V856.8V856V856.8H516V865.1V865.9V865.1H517V850.6V865.1H518V856V865.1H519V865.9V865.1H520V856H521V846.8V856H522V865.1H523V846.8V865.1H524V865.9V865.1H525V850.6V865.1H526V850.6V865.1H527V850.6V865.1H528V850.6V865.1H529V856V865.1H530V856V865.1H531V856V865.1H532V856V865.1H533V865.9V865.1H534V856V865.1H535V856V865.1H536V865.9H537V865.1V865.9H538V865.1H539V850.6V865.1H540V856V865.1H541V856V865.1H542V856V865.1H543V865.9H544V865.1H545V850.6V865.1H546V846.8V865.1H547V856V865.1M549 865.9V865.1V865.9H550V865.1H551V846.8V865.1H552V865.9V865.1H553V856V865.1H554V865.9V865.1H555V850.6V865.1H556V856V865.1H557V865.9V865.1H558V856V865.1H559V856V865.1H560V865.9H561V865.1H562V856V865.1H563V856V865.1H564V865.9V865.1H565V856V865.1H566V856V865.1H567V865.9V865.1H568V850.6V865.1H569V850.6V865.1H570V846.8V865.1H571V850.6V856H572V834.8V856H573V841.5H574V836.2V841.5H575V837.7V846.8H576V850.6V834.8V837.7H577V827V837.7H578V843.9V828.6V836.2H579V830.3V836.2H580V837.7V826.3V833.5H581V827V833.5H582V830.3V833.5H583V837.7V827.8V837.7H584V843.9V826.3V837.7H585V832.4V837.7H586V828.6V833.5H587V827.8V833.5H588V832.4V839.5H589V830.3V850.6H590V841.5V865.1V850.6H591V843.9V850.6H592V839.5V865.1H593V843.9V865.1H594V841.5V865.1H595V843.9V865.1H596V846.8V865.1H597V850.6V865.1H598V865.9V865.1H599V856V865.1H600V865.9H601V865.1V865.9H602V865.1H603V856V865.1H604V865.9V865.1H605V856V865.1H606V865.9H607V865.1H608V856V865.1H609V865.9M611 865.9V865.1V865.9H612V865.1V865.9H613V865.1H614V856V865.1H615V865.9H616V865.1H617V856V865.1H618V865.9H619V865.1V865.9H620V865.1V865.9H621V865.1H622V856V865.1H623V865.9M625 865.9V865.1V865.9H626V865.1H627V856V865.1H628V865.9H629V865.1V865.9M631 865.9V865.1H632V856V865.1M635 865.9V865.1V865.9H636V865.1V865.9M638 865.1V856V865.1H639V865.9H640V865.1H641V856V865.1H642V856V865.1H643V865.9H644V865.1V865.9H645V865.1V865.9H646V865.1V865.9H647V865.1V865.9M649 865.1V856V865.1H650V865.9V865.1H651V856V865.1H652V865.9H653V865.1V865.9M655 865.1V856V865.1H656V856V865.1H657V865.9H658V865.1V865.9M660 865.1V856V865.1h0.01M663 865.9V865.1V865.9h0.01M665 865.9V865.1V865.9H666V865.1V865.9H667V865.1H668V856V865.1M670 865.1V856V865.1H671V865.9M673 865.9V865.1V865.9H674V865.1V865.9H675V865.1V865.9H676V865.1V865.9M678 865.9V865.1V865.9h0.01M680 865.9V865.1V865.9H681V865.1V865.9H682V865.1V865.9H683V865.1V865.9M686 865.9V865.1H687V856V865.1H688V865.9H689V865.1V865.9H690V865.1V865.9M692 865.9V865.1V865.9h0.01M694 865.9V865.1V865.9H695V865.1V865.9M697 865.9V865.1H698V856V865.1M701 865.9V865.1V865.9h0.01M704 865.1V856V865.1H705V856V865.1H706V865.9H707V865.1V865.9H708V865.1H709V856V865.1H710V865.9H711V865.1V865.9H712V865.1V865.9H713V865.1V865.9M717 865.9V865.1V865.9H718V865.1V865.9H719V865.1H720V856V865.1H721V856V865.1H722V865.9M724 865.9V865.1H725V856V865.1M727 865.9V865.1H728V856V865.1H729V865.9H730V865.1V865.9H731V865.1V865.9H732V865.1V865.9H733V865.1V865.9H734V865.1V865.9H735V865.1V865.9H736V865.1H737V856V865.1H738V856V865.1H739V865.9H740V865.1V865.9M742 865.9V865.1V865.9h0.01M744 865.9V865.1V865.9H745V865.1H746V856V865.1H747V865.9V865.1H748V856V865.1H749V865.9M752 865.1V856V865.1h0.01M754 865.9V865.1V865.9H755V865.1H756V856V865.1H757V865.9M759 865.1V856V865.1H760V856V865.1M762 865.1V856V865.1H763V865.9V865.1H764V856V865.1H765V865.9V865.1H766V856V865.1H767V865.9H768V865.1V865.9H769V865.1V865.9M772 865.9V865.1V865.9h0.01M774 865.9V865.1V865.9H775V865.1V865.9H776V865.1V865.9M779 865.9V865.1V865.9h0.01M781 865.9V865.1V865.9H782V865.1V865.9M785 865.1V856V865.1H786V865.9H787V865.1V865.9H788V865.1V865.9H789V865.1V865.9H790V865.1V865.9M792 865.9V865.1V865.9H793V865.1V865.9H794V865.1V865.9H795V865.1V865.9H796V865.1V865.9H797V865.1V865.9H798V865.1V865.9H799V865.1V865.9H800V865.1V865.9H801V865.1V865.9M803 865.9V865.1V865.9h0.01M806 865.9V865.1H807V850.6V865.1H808V865.9H809V865.1V865.9H810V865.1V865.9M812 865.1V856V865.1h0.01M815 865.9V865.1V865.9H816V865.1V865.9M819 865.1V856V865.1H820V865.9H821V865.1H822V856V865.1H823V865.9H824V865.1H825V856V865.1M827 865.9V865.1H828V856V865.1M830 865.9V865.1V865.9H831V865.1H832V856V865.1M835 865.9V865.1V865.9H836V865.1V865.9M838 865.9V865.1V865.9h0.01M840 865.9V865.1V865.9h0.01M842 865.9V865.1V865.9h0.01M846 865.9V865.1V865.9H847V865.1V865.9H848V865.1H849V856V865.1H850V865.9H851V865.1V865.9H852V865.1V865.9H853V865.1V865.9" fill="none" stroke="#1e9df0" stroke-width="2" stroke-linejoin="bevel"/>
<path d="M145 1017.5V1016.7V1017.5h0.01M147 1017.5V1016.7V1017.5h0.01M151 1017.5V1016.7H152V1007.6V1016.7M154 1017.5V1016.7H155V1007.6V1016.7H156V1017.5M158 1017.5V1016.7V1017.5h0.01M161 1017.5V1016.7V1017.5h0.01M163 1017.5V1016.7V1017.5H164V1016.7V1017.5H165V1016.7V1017.5M167 1017.5V1016.7V1017.5H168V1016.7H169V1007.6V1016.7H170V1017.5H171V1016.7V1017.5M173 1017.5V1016.7V1017.5h0.01M178 1017.5V1016.7V1017.5h0.01M180 1017.5V1016.7H181V1007.6V1016.7H182V1007.6V1016.7M184 1017.5V1016.7V1017.5H185V1016.7H186V1002.2V1016.7H187V1017.5H188V1016.7V1017.5H189V1016.7V1017.5H190V1016.7V1017.5H191V1016.7V1017.5H192V1016.7V1017.5M195 1017.5V1016.7H196V1007.6V1016.7M198 1017.5V1016.7V1017.5H199V1016.7V1017.5M203 1017.5V1016.7V1017.5h0.01M205 1017.5V1016.7V1017.5H206V1016.7V1017.5M210 1017.5V1016.7V1017.5H211V1016.7V1017.5H212V1016.7V1017.5M214 1017.5V1016.7V1017.5H215V1016.7V1017.5M217 1016.7V1007.6V1016.7h0.01M219 1016.7V1007.6V1016.7h0.01M225 1017.5V1016.7H226V1007.6V1016.7H227V1017.5H228V1016.7V1017.5H229V1016.7H230V1002.2V1016.7H231V1017.5M234 1017.5V1016.7V1017.5H235V1016.7V1017.5H236V1016.7V1017.5M239 1017.5V1016.7V1017.5H240V1016.7V1017.5H241V1016.7V1017.5H242V1016.7V1017.5M244 1017.5V1016.7V1017.5h0.01M246 1017.5V1016.7V1017.5H247V1016.7V1017.5M249 1016.7V1007.6V1016.7h0.01M252 1017.5V1016.7V1017.5H253V1016.7V1017.5M255 1017.5V1016.7V1017.5h0.01M257 1017.5V1016.7H258V1007.6V1016.7H259V1017.5H260V1016.7V1017.5M262 1016.7V1007.6V1016.7H263V1017.5V1016.7H264V1007.6V1016.7M267 1016.7V1002.2V1016.7H268V1007.6V1016.7H269V1017.5M271 1016.7V1007.6V1016.7H272V1017.5V1016.7H273V1007.6V1016.7H274V1007.6V1016.7H275V1017.5M277 1017.5V1016.7H278V1007.6V1016.7H279V1017.5H280V1016.7V1017.5H281V1016.7V1017.5H282V1016.7V1017.5H283V1016.7H284V1007.6V1016.7M286 1017.5V1016.7V1017.5H287V1016.7H288V1007.6V1016.7M291 1017.5V1016.7V1017.5H292V1016.7V1017.5H293V1016.7V1017.5M295 1017.5V1016.7V1017.5h0.01M298 1017.5V1016.7H299V1007.6V1016.7M301 1017.5V1016.7V1017.5H302V1016.7V1017.5H303V1016.7V1017.5H304V1016.7V1017.5H305V1016.7H306V1007.6V1016.7H307V1017.5H308V1016.7H309V1007.6V1016.7H310V1007.6V1016.7H311V1017.5H312V1016.7V1017.5H313V1016.7H314V1007.6V1016.7H315V998.4V1016.7H316V1017.5H317V1016.7V1017.5M319 1017.5V1016.7V1017.5h0.01M321 1017.5V1016.7H322V1002.2V1016.7H323V1017.5H324V1016.7V1017.5H325V1016.7H326V1007.6V1016.7H327V1007.6V1016.7H328V1017.5H329V1016.7H330V1007.6V1016.7M332 1017.5V1016.7V1017.5H333V1016.7H334V1007.6V1016.7H335V1007.6V1016.7H336V1007.6V1016.7H337V1007.6V1016.7H338V1007.6V1016.7H339V1007.6V1016.7H340V1017.5V1016.7H341V1007.6V1016.7H342V1007.6V1016.7H343V1017.5H344V1016.7H345V1002.2V1016.7H346V1017.5H347V1016.7V1017.5H348V1016.7H349V1002.2V1016.7H350V1017.5V1016.7H351V1002.2V1016.7H352V995.5V1016.7H353V1007.6V1016.7H354V1007.6V1016.7H355V1007.6V1016.7H356V998.4V1016.7H357V1007.6V1016.7H358V1002.2V1016.7H359V1017.5V1016.7H360V1007.6V1016.7H361V1017.5V1016.7H362V1002.2V1016.7H363V1002.2V1016.7H364V1017.5V1016.7H365V1007.6V1016.7H366V1002.2V1016.7H367V1007.6V1016.7H368V1007.6V1016.7H369V1002.2V1016.7H370V1002.2V1016.7H371V993.1V1016.7H372V1002.2V1016.7H373V1002.2V1007.6H374V995.5V1007.6H375V1002.2V1016.7H376V1002.2V1007.6H377V1002.2V1007.6H378V998.4V1016.7H379V1002.2V1016.7H380V1007.6V1016.7H381V991.1V1016.7H382V998.4V1007.6H383V998.4V1002.2H384V991.1V1002.2H385V995.5V1016.7V1007.6H386V998.4H387V993.1V998.4H388V989.3V1007.6H389V993.1V1007.6H390V993.1V995.5H391V991.1V995.5H392V998.4V986.4V995.5H393V987.8V995.5H394V998.4V991.1V998.4H395V987.8V993.1H396V985.1V993.1H397V995.5V985.1V995.5H398V981V989.3H399V978.6V987.8H400V981.9V982.9H401V974.9V981H402V975.4V980.2H403V975.4V976.6H404V972.8V976.6H405V966.9V967.8H406V961.7V964.4H407V958.4H408V957V948H409V946.6V936.6H410V931.6V920.5H411V916.4V897.2H412V890.6V875.5H413V871V867.6V871H414V869.7V878.5H415V882.3V895.4H416V900.4V915.9H417V918.8V928.3H418V931V942.8H419V944.1V948.9H420V950.8V956.2H421V957.3V961.3H422V961.9V965.7H423V966.9V974.9H424V976V969.2V976H425V971.9V976H426V975.4V987.8V978.6H427V973.3V978.6H428V979.4V984H429V985.1V979.4V985.1H430V984V986.4V984H431V979.4V984H432V981V987.8H433V989.3V980.2V989.3H434V984V1002.2V995.5H435V986.4V995.5H436V980.2V995.5H437V985.1V995.5H438V985.1V1007.6V993.9H439V993.1V993.9H440V991.1V1002.2H441V1007.6V985.1V991.1H442V987.8V991.1H443V993.1V1002.2H444V995.5V1016.7V1007.6H445V993.1V1007.6H446V1016.7V991.1V1016.7H447V993.1V1007.6H448V991.1V1007.6H449V998.4V1016.7H450V995.5V1016.7H451V987.8V1007.6H452V995.5V1007.6H453V1016.7V993.1V1016.7H454V998.4V1007.6H455V1002.2V1007.6H456V998.4V1016.7V1007.6H457V993.1V1007.6H458V989.3V1007.6H459V993.1V1007.6H460V1016.7V995.5V1016.7H461V993.1V1016.7H462V1002.2V1016.7H463V1002.2V1003H464V1002.2V1003H465V998.4V1016.7V1007.6H466V995.5V1007.6H467V1016.7V995.5V1016.7H468V1002.2V1016.7H469V995.5V1002.2H470V995.5V1002.2H471V995.5V1016.7H472V1002.2V1016.7H473V998.4V1016.7H474V1002.2V1016.7H475V1007.6V1016.7H476V998.4V1016.7H477V998.4V1016.7H478V1007.6H479V998.4V1007.6H480V1016.7H481V1002.2V1016.7H482V1002.2V1016.7H483V1002.2V1016.7H484V1007.6V1016.7H485V1002.2V1016.7H486V1002.2V1016.7H487V1017.5V1016.7H488V998.4V1016.7H489V1017.5V1016.7H490V1002.2V1016.7H491V998.4V1016.7H492V1017.5V1016.7H493V1007.6V1016.7H494V1002.2V1016.7H495V1002.2V1016.7H496V1017.5V1016.7H497V1007.6V1016.7H498V1002.2V1016.7H499V1002.2V1016.7H500V998.4V1016.7H501V1002.2V1016.7H502V1007.6V1016.7H503V1007.6V1016.7H504V998.4V1016.7H505V1007.6V1016.7H506V1007.6V1016.7H507V1017.5V1016.7H508V1007.6V1016.7H509V1002.2V1016.7H510V1007.6V1016.7H511V1002.2V1016.7H512V1002.2V1016.7H513V1007.6V1016.7H514V1017.5V1016.7H515V1002.2V1016.7H516V1017.5H517V1016.7V1017.5H518V1016.7H519V1007.6V1016.7H520V1002.2V1016.7H521V1002.2V1016.7H522V1007.6V1016.7H523V1007.6V1016.7H524V1017.5V1016.7H525V1007.6V1016.7H526V1007.6V1016.7H527V998.4V1016.7M529 1016.7V1007.6V1016.7H530V1002.2V1016.7H531V1007.6V1016.7H532V1007.6V1016.7H533V1007.6V1016.7H534V1017.5V1016.7H535V1007.6V1016.7H536V1017.5H537V1016.7V1017.5H538V1016.7H539V1007.6V1016.7H540V1017.5V1016.7H541V1007.6V1016.7M543 1016.7V1002.2V1016.7H544V1017.5V1016.7H545V1007.6V1016.7H546V1017.5M548 1016.7V1002.2V1016.7H549V1017.5H550V1016.7V1017.5H551V1016.7V1017.5H552V1016.7H553V1007.6V1016.7H554V1017.5H555V1016.7V1017.5M557 1017.5V1016.7V1017.5H558V1016.7V1017.5H559V1016.7H560V1007.6V1016.7H561V1007.6V1016.7H562V1017.5H563V1016.7H564V1007.6V1016.7H565V1017.5V1016.7H566V1007.6V1016.7H567V1007.6V1016.7H568V1007.6V1016.7M570 1016.7V1007.6V1016.7H571V1007.6V1016.7H572V1007.6V1016.7H573V998.4V1016.7H574V1007.6H575V998.4V1007.6H576V1016.7V995.5V1016.7H577V998.4V1016.7H578V1017.5V1016.7H579V995.5V1007.6H580V998.4V1002.2H581V989.3V1002.2H582V1016.7V1017.5V1016.7H583V998.4V1002.2H584V989.3V1002.2H585V995.5V1016.7H586V1002.2V1016.7H587V998.4V1016.7H588V995.5V1016.7H589V995.5V1016.7H590V998.4V1016.7H591V1007.6V1016.7H592V1002.2V1016.7H593V1017.5M595 1016.7V1007.6V1016.7H596V1017.5H597V1016.7V1017.5H598V1016.7V1017.5H599V1016.7V1017.5H600V1016.7H601V1007.6V1016.7M603 1017.5V1016.7V1017.5H604V1016.7V1017.5H605V1016.7V1017.5H606V1016.7H607V1002.2V1016.7H608V1007.6V1016.7H609V1017.5H610V1016.7V1017.5M612 1017.5V1016.7V1017.5H613V1016.7V1017.5H614V1016.7V1017.5H615V1016.7V1017.5H616V1016.7V1017.5M618 1016.7V1007.6V1016.7H619V1017.5H620V1016.7H621V1007.6V1016.7M623 1017.5V1016.7V1017.5H624V1016.7V1017.5H625V1016.7V1017.5M627 1017.5V1016.7H628V1007.6V1016.7H629V1017.5H630V1016.7H631V1007.6V1016.7H632V1007.6V1016.7H633V1017.5M635 1017.5V1016.7V1017.5h0.01M638 1017.5V1016.7V1017.5h0.01M640 1017.5V1016.7V1017.5h0.01M642 1017.5V1016.7V1017.5H643V1016.7V1017.5M645 1017.5V1016.7V1017.5h0.01M648 1017.5V1016.7V1017.5H649V1016.7V1017.5H650V1016.7H651V1002.2V1016.7H652V1017.5M654 1017.5V1016.7V1017.5h0.01M656 1016.7V1007.6V1016.7h0.01M659 1017.5V1016.7V1017.5H660V1016.7V1017.5H661V1016.7H662V1007.6V1016.7H663V1017.5H664V1016.7H665V1007.6V1016.7M667 1017.5V1016.7V1017.5H668V1016.7V1017.5H669V1016.7V1017.5H670V1016.7V1017.5H671V1016.7V1017.5H672V1016.7H673V1007.6V1016.7H674V1017.5M676 1017.5V1016.7V1017.5H677V1016.7V1017.5H678V1016.7V1017.5H679V1016.7V1017.5H680V1016.7V1017.5M683 1017.5V1016.7V1017.5H684V1016.7V1017.5H685V1016.7V1017.5M687 1016.7V1007.6V1016.7H688V1017.5H689V1016.7V1017.5M694 1017.5V1016.7V1017.5H695V1016.7V1017.5H696V1016.7V1017.5H697V1016.7V1017.5M699 1016.7V1007.6V1016.7H700V1017.5M702 1017.5V1016.7V1017.5h0.01M706 1017.5V1016.7V1017.5H707V1016.7V1017.5M709 1017.5V1016.7V1017.5H710V1016.7V1017.5H711V1016.7V1017.5M713 1017.5V1016.7V1017.5H714V1016.7V1017.5H715V1016.7V1017.5H716V1016.7H717V1007.6V1016.7M719 1017.5V1016.7V1017.5H720V1016.7V1017.5H721V1016.7V1017.5M724 1016.7V1007.6V1016.7H725V1017.5M727 1017.5V1016.7V1017.5H728V1016.7V1017.5M731 1016.7V1007.6V1016.7H732V1007.6V1016.7H733V1017.5M735 1017.5V1016.7V1017.5H736V1016.7V1017.5M739 1017.5V1016.7V1017.5H740V1016.7V1017.5H741V1016.7H742V1007.6V1016.7H743V1007.6V1016.7H744V1017.5M747 1017.5V1016.7V1017.5H748V1016.7V1017.5H749V1016.7V1017.5M751 1017.5V1016.7V1017.5h0.01M754 1017.5V1016.7V1017.5H755V1016.7V1017.5H756V1016.7V1017.5H757V1016.7V1017.5H758V1016.7V1017.5H759V1016.7V1017.5M761 1017.5V1016.7V1017.5H762V1016.7V1017.5H763V1016.7V1017.5H764V1016.7H765V1007.6V1016.7H766V1017.5M769 1017.5V1016.7V1017.5h0.01M772 1017.5V1016.7V1017.5h0.01M775 1017.5V1016.7V1017.5h0.01M777 1017.5V1016.7V1017.5H778V1016.7V1017.5M782 1017.5V1016.7V1017.5H783V1016.7V1017.5H784V1016.7V1017.5M786 1017.5V1016.7V1017.5H787V1016.7V1017.5H788V1016.7V1017.5H789V1016.7H790V1007.6V1016.7M792 1016.7V1007.6V1016.7H793V1017.5M796 1017.5V1016.7V1017.5H797V1016.7V1017.5H798V1016.7H799V1007.6V1016.7H800V1017.5H801V1016.7V1017.5M803 1016.7V1007.6V1016.7H804V1017.5H805V1016.7V1017.5H806V1016.7H807V1007.6V1016.7H808V1007.6V1016.7H809V1017.5M812 1017.5V1016.7H813V1007.6V1016.7M815 1017.5V1016.7V1017.5H816V1016.7H817V1007.6V1016.7H818V1017.5H819V1016.7V1017.5M821 1017.5V1016.7V1017.5H822V1016.7V1017.5M825 1017.5V1016.7V1017.5H826V1016.7V1017.5M828 1017.5V1016.7V1017.5H829V1016.7V1017.5H830V1016.7V1017.5H831V1016.7V1017.5H832V1016.7V1017.5M836 1016.7V1007.6V1016.7H837V1017.5V1016.7H838V1002.2V1016.7H839V1017.5M841 1017.5V1016.7V1017.5H842V1016.7V1017.5H843V1016.7V1017.5H844V1016.7V1017.5M848 1017.5V1016.7V1017.5H849V1016.7V1017.5M851 1017.5V1016.7V1017.5H852V1016.7V1017.5H853V1016.7V1017.5" fill="none" stroke="#000000" stroke-width="2" stroke-linejoin="bevel"/>
</g>
<path d="M156.7 147.3H209.7" stroke="#6a0fdc" stroke-width="2"/>
<text x="215.6" y="154.8" font-size="37.7">675 <tspan dy="-13.57" font-size="24.88">o</tspan><tspan dy="13.57">C</tspan></text>
<path d="M156.7 301.0H209.7" stroke="#ee1c25" stroke-width="2"/>
<text x="216.8" y="308.4" font-size="37.7">700 <tspan dy="-13.57" font-size="24.88">o</tspan><tspan dy="13.57">C</tspan></text>
<text x="830.5" y="376.1" font-size="33.5" text-anchor="end" fill="#ee1c25">(<tspan font-style="italic">t</tspan>=705 nm)</text>
<path d="M156.7 454.8H209.7" stroke="#e3ac3c" stroke-width="2"/>
<text x="216.8" y="462.7" font-size="37.7">725 <tspan dy="-13.57" font-size="24.88">o</tspan><tspan dy="13.57">C</tspan></text>
<text x="830.5" y="531.6" font-size="33.5" text-anchor="end" fill="#e3ac3c">(<tspan font-style="italic">t</tspan>=780 nm)</text>
<path d="M158.1 605.8H210.7" stroke="#1fcc1f" stroke-width="2"/>
<text x="216.8" y="613.4" font-size="37.7">750 <tspan dy="-13.57" font-size="24.88">o</tspan><tspan dy="13.57">C</tspan></text>
<text x="830.5" y="684.3" font-size="33.5" text-anchor="end" fill="#1fcc1f">(<tspan font-style="italic">t</tspan>=843 nm)</text>
<path d="M155.3 750.2H207.8" stroke="#1e9df0" stroke-width="2"/>
<text x="213.9" y="758.0" font-size="37.7">775 <tspan dy="-13.57" font-size="24.88">o</tspan><tspan dy="13.57">C</tspan></text>
<text x="830.5" y="839.3" font-size="33.5" text-anchor="end" fill="#1e9df0">(<tspan font-style="italic">t</tspan>=614 nm)</text>
<path d="M158.1 909.3H210.7" stroke="#000000" stroke-width="2"/>
<text x="217.0" y="917.2" font-size="37.7">800 <tspan dy="-13.57" font-size="24.88">o</tspan><tspan dy="13.57">C</tspan></text>
<rect x="142.9" y="108.1" width="711.9" height="909.9" fill="none" stroke="#000" stroke-width="2.2"/>
<path d="M178.5 108.1v3.0M178.5 1018.0v-3.0M214.1 108.1v4.6M214.1 1018.0v-4.6M249.7 108.1v3.0M249.7 1018.0v-3.0M285.3 108.1v4.6M285.3 1018.0v-4.6M320.9 108.1v3.0M320.9 1018.0v-3.0M356.5 108.1v4.6M356.5 1018.0v-4.6M392.1 108.1v3.0M392.1 1018.0v-3.0M427.7 108.1v4.6M427.7 1018.0v-4.6M463.3 108.1v3.0M463.3 1018.0v-3.0M498.9 108.1v4.6M498.9 1018.0v-4.6M534.4 108.1v3.0M534.4 1018.0v-3.0M570.0 108.1v4.6M570.0 1018.0v-4.6M605.6 108.1v3.0M605.6 1018.0v-3.0M641.2 108.1v4.6M641.2 1018.0v-4.6M676.8 108.1v3.0M676.8 1018.0v-3.0M712.4 108.1v4.6M712.4 1018.0v-4.6M748.0 108.1v3.0M748.0 1018.0v-3.0M783.6 108.1v4.6M783.6 1018.0v-4.6M819.2 108.1v3.0M819.2 1018.0v-3.0M142.9 117.0h5.4M854.8 117.0h-4.6M142.9 147.3h5.4M854.8 147.3h-4.6M142.9 138.2h3.3M854.8 138.2h-2.8M142.9 132.9h3.3M854.8 132.9h-2.8M142.9 129.1h3.3M854.8 129.1h-2.8M142.9 126.1h3.3M854.8 126.1h-2.8M142.9 123.7h3.3M854.8 123.7h-2.8M142.9 121.7h3.3M854.8 121.7h-2.8M142.9 119.9h3.3M854.8 119.9h-2.8M142.9 118.4h3.3M854.8 118.4h-2.8M142.9 177.7h5.4M854.8 177.7h-4.6M142.9 168.5h3.3M854.8 168.5h-2.8M142.9 163.2h3.3M854.8 163.2h-2.8M142.9 159.4h3.3M854.8 159.4h-2.8M142.9 156.5h3.3M854.8 156.5h-2.8M142.9 154.1h3.3M854.8 154.1h-2.8M142.9 152.0h3.3M854.8 152.0h-2.8M142.9 150.3h3.3M854.8 150.3h-2.8M142.9 148.7h3.3M854.8 148.7h-2.8M142.9 208.0h5.4M854.8 208.0h-4.6M142.9 198.8h3.3M854.8 198.8h-2.8M142.9 193.5h3.3M854.8 193.5h-2.8M142.9 189.7h3.3M854.8 189.7h-2.8M142.9 186.8h3.3M854.8 186.8h-2.8M142.9 184.4h3.3M854.8 184.4h-2.8M142.9 182.3h3.3M854.8 182.3h-2.8M142.9 180.6h3.3M854.8 180.6h-2.8M142.9 179.0h3.3M854.8 179.0h-2.8M142.9 238.3h5.4M854.8 238.3h-4.6M142.9 229.2h3.3M854.8 229.2h-2.8M142.9 223.8h3.3M854.8 223.8h-2.8M142.9 220.0h3.3M854.8 220.0h-2.8M142.9 217.1h3.3M854.8 217.1h-2.8M142.9 214.7h3.3M854.8 214.7h-2.8M142.9 212.7h3.3M854.8 212.7h-2.8M142.9 210.9h3.3M854.8 210.9h-2.8M142.9 209.4h3.3M854.8 209.4h-2.8M142.9 268.6h5.4M854.8 268.6h-4.6M142.9 259.5h3.3M854.8 259.5h-2.8M142.9 254.1h3.3M854.8 254.1h-2.8M142.9 250.4h3.3M854.8 250.4h-2.8M142.9 247.4h3.3M854.8 247.4h-2.8M142.9 245.0h3.3M854.8 245.0h-2.8M142.9 243.0h3.3M854.8 243.0h-2.8M142.9 241.2h3.3M854.8 241.2h-2.8M142.9 239.7h3.3M854.8 239.7h-2.8M142.9 298.9h5.4M854.8 298.9h-4.6M142.9 289.8h3.3M854.8 289.8h-2.8M142.9 284.5h3.3M854.8 284.5h-2.8M142.9 280.7h3.3M854.8 280.7h-2.8M142.9 277.7h3.3M854.8 277.7h-2.8M142.9 275.3h3.3M854.8 275.3h-2.8M142.9 273.3h3.3M854.8 273.3h-2.8M142.9 271.5h3.3M854.8 271.5h-2.8M142.9 270.0h3.3M854.8 270.0h-2.8M142.9 329.2h5.4M854.8 329.2h-4.6M142.9 320.1h3.3M854.8 320.1h-2.8M142.9 314.8h3.3M854.8 314.8h-2.8M142.9 311.0h3.3M854.8 311.0h-2.8M142.9 308.1h3.3M854.8 308.1h-2.8M142.9 305.7h3.3M854.8 305.7h-2.8M142.9 303.6h3.3M854.8 303.6h-2.8M142.9 301.9h3.3M854.8 301.9h-2.8M142.9 300.3h3.3M854.8 300.3h-2.8M142.9 359.6h5.4M854.8 359.6h-4.6M142.9 350.4h3.3M854.8 350.4h-2.8M142.9 345.1h3.3M854.8 345.1h-2.8M142.9 341.3h3.3M854.8 341.3h-2.8M142.9 338.4h3.3M854.8 338.4h-2.8M142.9 336.0h3.3M854.8 336.0h-2.8M142.9 333.9h3.3M854.8 333.9h-2.8M142.9 332.2h3.3M854.8 332.2h-2.8M142.9 330.6h3.3M854.8 330.6h-2.8M142.9 389.9h5.4M854.8 389.9h-4.6M142.9 380.8h3.3M854.8 380.8h-2.8M142.9 375.4h3.3M854.8 375.4h-2.8M142.9 371.6h3.3M854.8 371.6h-2.8M142.9 368.7h3.3M854.8 368.7h-2.8M142.9 366.3h3.3M854.8 366.3h-2.8M142.9 364.3h3.3M854.8 364.3h-2.8M142.9 362.5h3.3M854.8 362.5h-2.8M142.9 361.0h3.3M854.8 361.0h-2.8M142.9 420.2h5.4M854.8 420.2h-4.6M142.9 411.1h3.3M854.8 411.1h-2.8M142.9 405.7h3.3M854.8 405.7h-2.8M142.9 402.0h3.3M854.8 402.0h-2.8M142.9 399.0h3.3M854.8 399.0h-2.8M142.9 396.6h3.3M854.8 396.6h-2.8M142.9 394.6h3.3M854.8 394.6h-2.8M142.9 392.8h3.3M854.8 392.8h-2.8M142.9 391.3h3.3M854.8 391.3h-2.8M142.9 450.5h5.4M854.8 450.5h-4.6M142.9 441.4h3.3M854.8 441.4h-2.8M142.9 436.1h3.3M854.8 436.1h-2.8M142.9 432.3h3.3M854.8 432.3h-2.8M142.9 429.3h3.3M854.8 429.3h-2.8M142.9 426.9h3.3M854.8 426.9h-2.8M142.9 424.9h3.3M854.8 424.9h-2.8M142.9 423.1h3.3M854.8 423.1h-2.8M142.9 421.6h3.3M854.8 421.6h-2.8M142.9 480.8h5.4M854.8 480.8h-4.6M142.9 471.7h3.3M854.8 471.7h-2.8M142.9 466.4h3.3M854.8 466.4h-2.8M142.9 462.6h3.3M854.8 462.6h-2.8M142.9 459.7h3.3M854.8 459.7h-2.8M142.9 457.3h3.3M854.8 457.3h-2.8M142.9 455.2h3.3M854.8 455.2h-2.8M142.9 453.5h3.3M854.8 453.5h-2.8M142.9 451.9h3.3M854.8 451.9h-2.8M142.9 511.2h5.4M854.8 511.2h-4.6M142.9 502.0h3.3M854.8 502.0h-2.8M142.9 496.7h3.3M854.8 496.7h-2.8M142.9 492.9h3.3M854.8 492.9h-2.8M142.9 490.0h3.3M854.8 490.0h-2.8M142.9 487.6h3.3M854.8 487.6h-2.8M142.9 485.5h3.3M854.8 485.5h-2.8M142.9 483.8h3.3M854.8 483.8h-2.8M142.9 482.2h3.3M854.8 482.2h-2.8M142.9 541.5h5.4M854.8 541.5h-4.6M142.9 532.4h3.3M854.8 532.4h-2.8M142.9 527.0h3.3M854.8 527.0h-2.8M142.9 523.2h3.3M854.8 523.2h-2.8M142.9 520.3h3.3M854.8 520.3h-2.8M142.9 517.9h3.3M854.8 517.9h-2.8M142.9 515.9h3.3M854.8 515.9h-2.8M142.9 514.1h3.3M854.8 514.1h-2.8M142.9 512.6h3.3M854.8 512.6h-2.8M142.9 571.8h5.4M854.8 571.8h-4.6M142.9 562.7h3.3M854.8 562.7h-2.8M142.9 557.3h3.3M854.8 557.3h-2.8M142.9 553.6h3.3M854.8 553.6h-2.8M142.9 550.6h3.3M854.8 550.6h-2.8M142.9 548.2h3.3M854.8 548.2h-2.8M142.9 546.2h3.3M854.8 546.2h-2.8M142.9 544.4h3.3M854.8 544.4h-2.8M142.9 542.9h3.3M854.8 542.9h-2.8M142.9 602.1h5.4M854.8 602.1h-4.6M142.9 593.0h3.3M854.8 593.0h-2.8M142.9 587.7h3.3M854.8 587.7h-2.8M142.9 583.9h3.3M854.8 583.9h-2.8M142.9 580.9h3.3M854.8 580.9h-2.8M142.9 578.5h3.3M854.8 578.5h-2.8M142.9 576.5h3.3M854.8 576.5h-2.8M142.9 574.7h3.3M854.8 574.7h-2.8M142.9 573.2h3.3M854.8 573.2h-2.8M142.9 632.5h5.4M854.8 632.5h-4.6M142.9 623.3h3.3M854.8 623.3h-2.8M142.9 618.0h3.3M854.8 618.0h-2.8M142.9 614.2h3.3M854.8 614.2h-2.8M142.9 611.3h3.3M854.8 611.3h-2.8M142.9 608.9h3.3M854.8 608.9h-2.8M142.9 606.8h3.3M854.8 606.8h-2.8M142.9 605.1h3.3M854.8 605.1h-2.8M142.9 603.5h3.3M854.8 603.5h-2.8M142.9 662.8h5.4M854.8 662.8h-4.6M142.9 653.6h3.3M854.8 653.6h-2.8M142.9 648.3h3.3M854.8 648.3h-2.8M142.9 644.5h3.3M854.8 644.5h-2.8M142.9 641.6h3.3M854.8 641.6h-2.8M142.9 639.2h3.3M854.8 639.2h-2.8M142.9 637.1h3.3M854.8 637.1h-2.8M142.9 635.4h3.3M854.8 635.4h-2.8M142.9 633.8h3.3M854.8 633.8h-2.8M142.9 693.1h5.4M854.8 693.1h-4.6M142.9 684.0h3.3M854.8 684.0h-2.8M142.9 678.6h3.3M854.8 678.6h-2.8M142.9 674.8h3.3M854.8 674.8h-2.8M142.9 671.9h3.3M854.8 671.9h-2.8M142.9 669.5h3.3M854.8 669.5h-2.8M142.9 667.5h3.3M854.8 667.5h-2.8M142.9 665.7h3.3M854.8 665.7h-2.8M142.9 664.2h3.3M854.8 664.2h-2.8M142.9 723.4h5.4M854.8 723.4h-4.6M142.9 714.3h3.3M854.8 714.3h-2.8M142.9 708.9h3.3M854.8 708.9h-2.8M142.9 705.2h3.3M854.8 705.2h-2.8M142.9 702.2h3.3M854.8 702.2h-2.8M142.9 699.8h3.3M854.8 699.8h-2.8M142.9 697.8h3.3M854.8 697.8h-2.8M142.9 696.0h3.3M854.8 696.0h-2.8M142.9 694.5h3.3M854.8 694.5h-2.8M142.9 753.7h5.4M854.8 753.7h-4.6M142.9 744.6h3.3M854.8 744.6h-2.8M142.9 739.3h3.3M854.8 739.3h-2.8M142.9 735.5h3.3M854.8 735.5h-2.8M142.9 732.5h3.3M854.8 732.5h-2.8M142.9 730.1h3.3M854.8 730.1h-2.8M142.9 728.1h3.3M854.8 728.1h-2.8M142.9 726.3h3.3M854.8 726.3h-2.8M142.9 724.8h3.3M854.8 724.8h-2.8M142.9 784.1h5.4M854.8 784.1h-4.6M142.9 774.9h3.3M854.8 774.9h-2.8M142.9 769.6h3.3M854.8 769.6h-2.8M142.9 765.8h3.3M854.8 765.8h-2.8M142.9 762.9h3.3M854.8 762.9h-2.8M142.9 760.5h3.3M854.8 760.5h-2.8M142.9 758.4h3.3M854.8 758.4h-2.8M142.9 756.7h3.3M854.8 756.7h-2.8M142.9 755.1h3.3M854.8 755.1h-2.8M142.9 814.4h5.4M854.8 814.4h-4.6M142.9 805.2h3.3M854.8 805.2h-2.8M142.9 799.9h3.3M854.8 799.9h-2.8M142.9 796.1h3.3M854.8 796.1h-2.8M142.9 793.2h3.3M854.8 793.2h-2.8M142.9 790.8h3.3M854.8 790.8h-2.8M142.9 788.7h3.3M854.8 788.7h-2.8M142.9 787.0h3.3M854.8 787.0h-2.8M142.9 785.4h3.3M854.8 785.4h-2.8M142.9 844.7h5.4M854.8 844.7h-4.6M142.9 835.6h3.3M854.8 835.6h-2.8M142.9 830.2h3.3M854.8 830.2h-2.8M142.9 826.4h3.3M854.8 826.4h-2.8M142.9 823.5h3.3M854.8 823.5h-2.8M142.9 821.1h3.3M854.8 821.1h-2.8M142.9 819.1h3.3M854.8 819.1h-2.8M142.9 817.3h3.3M854.8 817.3h-2.8M142.9 815.8h3.3M854.8 815.8h-2.8M142.9 875.0h5.4M854.8 875.0h-4.6M142.9 865.9h3.3M854.8 865.9h-2.8M142.9 860.5h3.3M854.8 860.5h-2.8M142.9 856.8h3.3M854.8 856.8h-2.8M142.9 853.8h3.3M854.8 853.8h-2.8M142.9 851.4h3.3M854.8 851.4h-2.8M142.9 849.4h3.3M854.8 849.4h-2.8M142.9 847.6h3.3M854.8 847.6h-2.8M142.9 846.1h3.3M854.8 846.1h-2.8M142.9 905.3h5.4M854.8 905.3h-4.6M142.9 896.2h3.3M854.8 896.2h-2.8M142.9 890.9h3.3M854.8 890.9h-2.8M142.9 887.1h3.3M854.8 887.1h-2.8M142.9 884.1h3.3M854.8 884.1h-2.8M142.9 881.7h3.3M854.8 881.7h-2.8M142.9 879.7h3.3M854.8 879.7h-2.8M142.9 877.9h3.3M854.8 877.9h-2.8M142.9 876.4h3.3M854.8 876.4h-2.8M142.9 935.7h5.4M854.8 935.7h-4.6M142.9 926.5h3.3M854.8 926.5h-2.8M142.9 921.2h3.3M854.8 921.2h-2.8M142.9 917.4h3.3M854.8 917.4h-2.8M142.9 914.5h3.3M854.8 914.5h-2.8M142.9 912.1h3.3M854.8 912.1h-2.8M142.9 910.0h3.3M854.8 910.0h-2.8M142.9 908.3h3.3M854.8 908.3h-2.8M142.9 906.7h3.3M854.8 906.7h-2.8M142.9 966.0h5.4M854.8 966.0h-4.6M142.9 956.8h3.3M854.8 956.8h-2.8M142.9 951.5h3.3M854.8 951.5h-2.8M142.9 947.7h3.3M854.8 947.7h-2.8M142.9 944.8h3.3M854.8 944.8h-2.8M142.9 942.4h3.3M854.8 942.4h-2.8M142.9 940.3h3.3M854.8 940.3h-2.8M142.9 938.6h3.3M854.8 938.6h-2.8M142.9 937.0h3.3M854.8 937.0h-2.8M142.9 996.3h5.4M854.8 996.3h-4.6M142.9 987.2h3.3M854.8 987.2h-2.8M142.9 981.8h3.3M854.8 981.8h-2.8M142.9 978.0h3.3M854.8 978.0h-2.8M142.9 975.1h3.3M854.8 975.1h-2.8M142.9 972.7h3.3M854.8 972.7h-2.8M142.9 970.7h3.3M854.8 970.7h-2.8M142.9 968.9h3.3M854.8 968.9h-2.8M142.9 967.4h3.3M854.8 967.4h-2.8M142.9 1012.1h3.3M854.8 1012.1h-2.8M142.9 1008.4h3.3M854.8 1008.4h-2.8M142.9 1005.4h3.3M854.8 1005.4h-2.8M142.9 1003.0h3.3M854.8 1003.0h-2.8M142.9 1001.0h3.3M854.8 1001.0h-2.8M142.9 999.2h3.3M854.8 999.2h-2.8M142.9 997.7h3.3M854.8 997.7h-2.8" stroke="#000" stroke-width="1.3" fill="none"/>
<text x="212.8" y="1049.6" font-size="35.6" text-anchor="middle">60</text>
<text x="355.2" y="1049.6" font-size="35.6" text-anchor="middle">62</text>
<text x="497.6" y="1049.6" font-size="35.6" text-anchor="middle">64</text>
<text x="639.9" y="1049.6" font-size="35.6" text-anchor="middle">66</text>
<text x="782.3" y="1049.6" font-size="35.6" text-anchor="middle">68</text>
<text x="486.8" y="1106.4" font-size="51" text-anchor="middle">2<tspan font-family='"Liberation Serif", "DejaVu Serif", serif'>θ</tspan>/<tspan font-family='"Liberation Serif", "DejaVu Serif", serif'>ω</tspan> (deg.)</text>
<text transform="translate(122.4 540.5) rotate(-90)" font-size="60.5" text-anchor="middle">Intensity (arb. unit)</text>
</g>
<defs>
<linearGradient id="gy" x1="0" y1="0" x2="0" y2="1"><stop offset="0" stop-color="#fff5d8"/><stop offset="1" stop-color="#ffe9ad"/></linearGradient>
<linearGradient id="gy2" x1="0" y1="0" x2="0" y2="1"><stop offset="0" stop-color="#fff6dc"/><stop offset="1" stop-color="#ffe8a6"/></linearGradient>
<linearGradient id="gc" x1="0" y1="0" x2="0" y2="1"><stop offset="0" stop-color="#e6f8fd"/><stop offset="1" stop-color="#d4f1fb"/></linearGradient>
<filter id="tsh" x="-10%" y="-10%" width="130%" height="140%"><feDropShadow dx="1.5" dy="1.5" stdDeviation="1.0" flood-color="#000" flood-opacity="0.5"/></filter>
</defs>
<g id="fig2a">
<text x="1158.6" y="61.2" font-size="48.4">Fig. 2 (a)</text>
<path d="M1181.4 560.6V319.4A248.5 241.2 0 0 1 1678.4 319.4V560.6Z" fill="none" stroke="#000" stroke-width="5.6" stroke-linejoin="miter"/>
<text x="1298.3" y="188.2" font-size="31.7">Under Vacuum</text>
<rect x="1297.5" y="191.8" width="209.5" height="1.8" fill="#000"/>
<text x="1323.5" y="250" font-size="23.5">O<tspan dy="5.17" font-size="15.51">2</tspan></text>
<text x="1457.5" y="250" font-size="23.5">O<tspan dy="5.17" font-size="15.51">2</tspan></text>
<path d="M1325.2 259.6H1339.2V272.5H1346.5L1332.2 287.0L1318.0 272.5H1325.2Z" fill="url(#gy)" stroke="#f7c24a" stroke-width="1.1" stroke-linejoin="miter"/>
<path d="M1460.6 260.4H1474.6V273.3H1481.8L1467.6 287.8L1453.3 273.3H1460.6Z" fill="url(#gy)" stroke="#f7c24a" stroke-width="1.1" stroke-linejoin="miter"/>
<text x="1257" y="338.3" font-size="24">GeO(g)</text>
<text x="1370.5" y="338.3" font-size="24">GeO(g)</text>
<text x="1481.8" y="338.3" font-size="24">GeO(g)</text>
<rect x="1246.1" y="379.3" width="313.6" height="42.5" fill="#e2efda" stroke="#a9d18e" stroke-width="1.2"/><rect x="1246.1" y="423.3" width="313.6" height="53.4" fill="#a9d18e" stroke="#5f8049" stroke-width="1.5"/><rect x="1246.1" y="479.3" width="313.6" height="60.9" fill="#e7e6e6" stroke="#2b2b2b" stroke-width="1.3"/>
<text x="1319.3" y="407.8" font-size="24">GeO<tspan dy="5.28" font-size="15.84">2</tspan><tspan dy="-5.28">+V</tspan><tspan dy="5.28" font-size="15.84">O</tspan><tspan dy="-5.28" font-family='"DejaVu Sans", sans-serif' font-size="27.36">→</tspan>GeO</text>
<text x="1352.5" y="516.7" font-size="24">Substrate</text>
<path d="M1303.6 389.8C1303.1 387.8 1302.0 381.2 1300.8 378.0C1299.6 374.8 1298.2 372.4 1296.5 370.5C1294.8 368.6 1292.2 367.8 1290.5 366.5C1288.8 365.2 1287.2 363.6 1286.3 362.5C1285.4 361.4 1285.4 360.3 1285.2 359.8" fill="none" stroke="#ff0000" stroke-width="3.9" stroke-linecap="round"/><path d="M1281.6 350.9L1291.2 360.0L1284.8 358.9L1281.0 364.1Z" fill="#ff0000"/>
<path d="M1383.8 386.7C1384.2 385.1 1385.0 379.7 1386.2 377.0C1387.4 374.3 1389.1 372.1 1391.0 370.5C1392.9 368.9 1395.6 368.6 1397.5 367.3C1399.4 366.0 1401.3 364.2 1402.5 362.5C1403.7 360.8 1404.4 358.1 1404.8 357.2" fill="none" stroke="#ff0000" stroke-width="3.9" stroke-linecap="round"/><path d="M1409.3 348.7L1408.5 361.9L1405.2 356.3L1398.8 356.7Z" fill="#ff0000"/>
<path d="M1470.2 386.7C1470.5 385.1 1470.9 379.9 1472.0 377.0C1473.1 374.1 1474.8 371.0 1477.0 369.0C1479.2 367.0 1482.2 366.2 1485.0 365.0C1487.8 363.8 1491.9 363.3 1494.0 362.0C1496.1 360.7 1497.1 358.1 1497.8 357.3" fill="none" stroke="#ff0000" stroke-width="3.9" stroke-linecap="round"/><path d="M1504.9 350.9L1499.7 363.0L1498.5 356.7L1492.3 354.8Z" fill="#ff0000"/>
<path d="M1331.1 452.0C1328.9 450.8 1321.5 448.0 1318.0 445.0C1314.5 442.0 1312.0 437.5 1310.0 434.0C1308.0 430.5 1307.7 427.2 1306.0 424.0C1304.3 420.8 1302.2 416.8 1300.0 414.5C1297.8 412.2 1294.3 411.3 1293.0 410.5C1291.7 409.7 1292.5 409.9 1292.3 409.7" fill="none" stroke="#000" stroke-width="3.6" stroke-linecap="round"/><path d="M1283.6 406.9L1296.1 405.7L1291.5 409.5L1293.0 415.2Z" fill="#000"/>
<path d="M1437.7 450.9C1439.2 450.4 1444.3 449.6 1447.0 448.0C1449.7 446.4 1452.2 443.8 1454.0 441.0C1455.8 438.2 1456.6 433.8 1458.0 431.0C1459.4 428.2 1460.7 426.1 1462.5 424.5C1464.3 422.9 1467.9 422.0 1469.0 421.5C1470.1 421.0 1469.0 421.4 1469.0 421.3" fill="none" stroke="#000" stroke-width="3.6" stroke-linecap="round"/><path d="M1477.5 417.9L1468.7 426.8L1469.8 421.0L1465.0 417.6Z" fill="#000"/>
<path d="M1513.5 445.4C1513.6 444.0 1513.6 439.6 1514.3 437.0C1515.0 434.4 1516.0 431.6 1517.5 429.5C1519.0 427.4 1521.0 426.1 1523.0 424.5C1525.0 422.9 1527.8 421.8 1529.5 420.0C1531.2 418.2 1532.3 415.1 1533.0 414.0C1533.7 412.9 1533.8 413.4 1534.0 413.2" fill="none" stroke="#000" stroke-width="3.6" stroke-linecap="round"/><path d="M1536.8 404.5L1538.0 417.0L1534.2 412.4L1528.5 413.9Z" fill="#000"/>
<text x="1337" y="467.5" font-size="24">V<tspan dy="5.28" font-size="15.84">O</tspan></text>
<text x="1414.5" y="461.8" font-size="24">V<tspan dy="5.28" font-size="15.84">O</tspan></text>
<text x="1496.5" y="465.4" font-size="24">V<tspan dy="5.28" font-size="15.84">O</tspan></text>
<path d="M1563 382.3h5.5q4 0 4 4V424.9q0 4 4 4H1586M1572.5 432.9V472.7q0 4 -4 4h-5.5M1572.5 424.9v8" fill="none" stroke="#222" stroke-width="1.1"/>
<text x="1591.3" y="437.8" font-size="31.8" filter="url(#tsh)">GeO<tspan dy="7.00" font-size="20.99">2</tspan></text>
</g>
<g id="fig2b">
<text x="1187.7" y="640.8" font-size="48.4">Fig. 2 (b)</text>
<text x="1266" y="706.9" font-size="31.8">Under Atmosphere</text>
<rect x="1265" y="710.2" width="266.5" height="1.8" fill="#000"/>
<path d="M1299.7 765.9Q1329.3 730.9 1361.5 748.1Q1382.8 725.4 1406.9 744.0Q1426.1 726.1 1445.3 741.2Q1471.4 723.9 1497.5 749.5Q1534.2 753.8 1512.1 773.6Q1549.3 782.0 1489.3 797.5Q1480.4 822.7 1441.2 809.9Q1405.5 843.7 1369.8 812.6Q1338.2 835.0 1312.1 808.5Q1265.9 808.2 1290.1 789.3Q1255.1 775.1 1299.7 765.9Z" fill="url(#gc)" stroke="#2aa9e0" stroke-width="1.2" stroke-linejoin="round"/><path d="M1290.1 789.3Q1297.0 790.1 1303.8 788.5M1512.1 773.6Q1514.0 770.9 1516.8 768.1M1489.3 797.5Q1483.8 787.9 1471.4 782.4M1361.5 748.1Q1358.2 745.6 1354.7 744.0M1441.2 809.9Q1441.8 812.1 1440.7 814.8M1312.1 808.5Q1314.3 810.4 1318.1 812.1" fill="none" stroke="#2aa9e0" stroke-width="1.1" stroke-linecap="round"/>
<text x="1363.5" y="788" font-size="24">H<tspan dy="5.28" font-size="15.84">2</tspan><tspan dy="-5.28">O(g)</tspan></text>
<text x="1314" y="845" font-size="24">O</text>
<text x="1466.5" y="841" font-size="24">O</text>
<path d="M1359.3 827.6L1345 856" fill="none" stroke="#4472c4" stroke-width="1.1" stroke-linecap="round"/><path d="M1343.3 859.5L1344.3 852.1L1348.7 854.4Z" fill="#4472c4"/>
<path d="M1443.9 817.9L1457 848.5" fill="none" stroke="#4472c4" stroke-width="1.1" stroke-linecap="round"/><path d="M1458.4 851.8L1453.3 846.4L1457.9 844.4Z" fill="#4472c4"/>
<path d="M1207 878.8H1276.6V907.4H1311.9L1240.6 935.4L1169.2 907.4H1207Z" fill="url(#gy2)" stroke="#f9c846" stroke-width="1.2" stroke-linejoin="miter"/>
<path d="M1367.5 878.8H1437.6V907.4H1473.9L1403.3 935.4L1332.7 907.4H1367.5Z" fill="url(#gy2)" stroke="#f9c846" stroke-width="1.2" stroke-linejoin="miter"/>
<path d="M1526 878.8H1595.7V907.4H1632L1560.9 935.4L1489.8 907.4H1526Z" fill="url(#gy2)" stroke="#f9c846" stroke-width="1.2" stroke-linejoin="miter"/>
<text x="1244.2" y="911" font-size="24.3" text-anchor="middle">O<tspan dy="5.35" font-size="16.04">2</tspan></text>
<text x="1405.7" y="911" font-size="24.3" text-anchor="middle">O<tspan dy="5.35" font-size="16.04">2</tspan></text>
<text x="1563.7" y="911" font-size="24.3" text-anchor="middle">O<tspan dy="5.35" font-size="16.04">2</tspan></text>
<text x="1276.2" y="945.3" font-size="24.3">GeO(g)</text>
<rect x="1243.2" y="963" width="313.8" height="42.5" fill="#e2efda" stroke="#a9d18e" stroke-width="1.2"/><rect x="1243.2" y="1007" width="313.8" height="54.0" fill="#a9d18e" stroke="#5f8049" stroke-width="1.5"/><rect x="1243.2" y="1063.5" width="313.8" height="61.0" fill="#e7e6e6" stroke="#2b2b2b" stroke-width="1.3"/>
<path d="M1308.5 987.3C1308.3 986.1 1307.9 982.3 1307.3 980.0C1306.7 977.7 1306.0 975.4 1305.0 973.5C1304.0 971.6 1302.5 970.0 1301.2 968.5C1299.9 967.0 1298.1 965.9 1297.3 964.5C1296.5 963.1 1296.4 961.0 1296.3 960.3" fill="none" stroke="#ff0000" stroke-width="3.9" stroke-linecap="round"/><path d="M1294.6 950.8L1302.1 961.7L1296.1 959.3L1291.3 963.6Z" fill="#ff0000"/>
<text x="1316.7" y="990" font-size="24">GeO<tspan dy="5.28" font-size="15.84">2</tspan><tspan dy="-5.28">+V</tspan><tspan dy="5.28" font-size="15.84">O</tspan><tspan dy="-5.28" font-family='"DejaVu Sans", sans-serif' font-size="27.36">→</tspan>GeO</text>
<path d="M1491.8 1032.6C1492.2 1031.2 1493.0 1026.6 1494.5 1024.0C1496.0 1021.4 1498.2 1018.7 1500.5 1017.0C1502.8 1015.3 1505.6 1014.8 1508.0 1013.8C1510.4 1012.8 1513.0 1012.2 1515.0 1011.0C1517.0 1009.8 1519.0 1007.4 1520.0 1006.5C1521.0 1005.6 1520.8 1005.9 1521.0 1005.8" fill="none" stroke="#000" stroke-width="3.6" stroke-linecap="round"/><path d="M1524.9 997.5L1524.6 1010.0L1521.4 1005.0L1515.5 1005.8Z" fill="#000"/>
<text x="1468" y="1049" font-size="24">V<tspan dy="5.28" font-size="15.84">O</tspan></text>
<text x="1350.5" y="1101.3" font-size="24">Substrate</text>
<path d="M1560.5 966.8h5.5q4 0 4 4V1009.7q0 4 4 4H1583.7M1570.0 1017.7V1057q0 4 -4 4h-5.5M1570.0 1009.7v8" fill="none" stroke="#222" stroke-width="1.1"/>
<text x="1592" y="1023.2" font-size="31.8" filter="url(#tsh)">GeO<tspan dy="7.00" font-size="20.99">2</tspan></text>
</g>
<defs>
<clipPath id="ca"><rect x="54.0" y="1379.4" width="490.5" height="490.29999999999995"/></clipPath>
<radialGradient id="sg"><stop offset="0" stop-color="#fff"/><stop offset="0.3" stop-color="#fff"/><stop offset="0.4" stop-color="#fff" stop-opacity="0.7"/><stop offset="0.52" stop-color="#fff" stop-opacity="0.2"/><stop offset="0.7" stop-color="#fff" stop-opacity="0.06"/><stop offset="1" stop-color="#fff" stop-opacity="0"/></radialGradient>
<radialGradient id="halo"><stop offset="0" stop-color="#fff"/><stop offset="0.042" stop-color="#fff"/><stop offset="0.054" stop-color="#fff" stop-opacity="0.62"/><stop offset="0.075" stop-color="#fff" stop-opacity="0.27"/><stop offset="0.11" stop-color="#fff" stop-opacity="0.115"/><stop offset="0.18" stop-color="#fff" stop-opacity="0.05"/><stop offset="0.3" stop-color="#fff" stop-opacity="0.024"/><stop offset="0.6" stop-color="#fff" stop-opacity="0.01"/><stop offset="1" stop-color="#fff" stop-opacity="0"/></radialGradient>
<linearGradient id="gpt" x1="0" y1="0" x2="0" y2="1"><stop offset="0" stop-color="#8c8c8c"/><stop offset="0.08" stop-color="#6e6e6e"/><stop offset="0.25" stop-color="#5a5a5a"/><stop offset="0.6" stop-color="#4e4e4e"/><stop offset="0.9" stop-color="#424242"/><stop offset="1" stop-color="#3c3c3c"/></linearGradient>
<linearGradient id="gti" x1="0" y1="0" x2="0" y2="1"><stop offset="0" stop-color="#050505"/><stop offset="0.07" stop-color="#0a0a0a"/><stop offset="0.13" stop-color="#222"/><stop offset="0.19" stop-color="#272727"/><stop offset="0.25" stop-color="#181818"/><stop offset="0.4" stop-color="#0c0c0c"/><stop offset="0.6" stop-color="#080808"/><stop offset="0.8" stop-color="#0d0d0d"/><stop offset="1" stop-color="#0a0a0a"/></linearGradient>
<linearGradient id="gge" x1="0" y1="0" x2="0" y2="1"><stop offset="0" stop-color="#9c9c9c"/><stop offset="0.5" stop-color="#a9a9a9"/><stop offset="1" stop-color="#9e9e9e"/></linearGradient>
<filter id="nfine" x="0" y="0" width="100%" height="100%" color-interpolation-filters="sRGB"><feTurbulence type="fractalNoise" baseFrequency="0.55" numOctaves="2" seed="7"/><feColorMatrix type="matrix" values="1 0 0 0 0 1 0 0 0 0 1 0 0 0 0 0 0 0 0 1"/><feComposite operator="arithmetic" in2="SourceGraphic" k1="0" k2="0.22" k3="1" k4="-0.11"/><feComposite operator="in" in2="SourceGraphic"/></filter>
<filter id="ngrain" x="0" y="0" width="100%" height="100%" color-interpolation-filters="sRGB"><feTurbulence type="fractalNoise" baseFrequency="0.42" numOctaves="2" seed="11"/><feColorMatrix type="matrix" values="1 0 0 0 0 1 0 0 0 0 1 0 0 0 0 0 0 0 0 1"/><feGaussianBlur stdDeviation="0.5"/><feComposite operator="arithmetic" in2="SourceGraphic" k1="0" k2="0.62" k3="1" k4="-0.31"/><feComposite operator="in" in2="SourceGraphic"/></filter>
<filter id="ngrain2" x="0" y="0" width="100%" height="100%" color-interpolation-filters="sRGB"><feTurbulence type="fractalNoise" baseFrequency="0.5" numOctaves="2" seed="4"/><feColorMatrix type="matrix" values="1 0 0 0 0 1 0 0 0 0 1 0 0 0 0 0 0 0 0 1"/><feGaussianBlur stdDeviation="0.45"/><feComposite operator="arithmetic" in2="SourceGraphic" k1="0" k2="0.55" k3="1" k4="-0.275"/><feComposite operator="in" in2="SourceGraphic"/></filter>
<filter id="nmott" x="0" y="0" width="100%" height="100%" color-interpolation-filters="sRGB"><feTurbulence type="fractalNoise" baseFrequency="0.018 0.03" numOctaves="3" seed="5" result="lo"/><feColorMatrix type="matrix" values="1 0 0 0 0 1 0 0 0 0 1 0 0 0 0 0 0 0 0 1" result="log"/><feTurbulence type="fractalNoise" baseFrequency="0.6" numOctaves="1" seed="9"/><feColorMatrix type="matrix" values="1 0 0 0 0 1 0 0 0 0 1 0 0 0 0 0 0 0 0 1" result="hig"/><feComposite operator="arithmetic" in="log" in2="SourceGraphic" k1="0" k2="0.22" k3="1" k4="-0.11" result="a"/><feComposite operator="arithmetic" in="hig" in2="a" k1="0" k2="0.12" k3="1" k4="-0.06"/><feComposite operator="in" in2="SourceGraphic"/></filter>
<filter id="ndark" x="0" y="0" width="100%" height="100%" color-interpolation-filters="sRGB"><feTurbulence type="fractalNoise" baseFrequency="0.012 0.02" numOctaves="2" seed="21"/><feColorMatrix type="matrix" values="1 0 0 0 0 1 0 0 0 0 1 0 0 0 0 0 0 0 0 1"/><feComposite operator="arithmetic" in2="SourceGraphic" k1="0" k2="0.1" k3="1" k4="-0.05"/><feComposite operator="in" in2="SourceGraphic"/></filter>
<linearGradient id="gst" gradientUnits="userSpaceOnUse" x1="1420" y1="0" x2="1680" y2="0"><stop offset="0" stop-color="#000"/><stop offset="0.4" stop-color="#000"/><stop offset="0.75" stop-color="#000" stop-opacity="0.6"/><stop offset="1" stop-color="#000" stop-opacity="0.3"/></linearGradient>
<filter id="b2"><feGaussianBlur stdDeviation="2.2"/></filter>
<filter id="b4"><feGaussianBlur stdDeviation="4"/></filter>
<filter id="b1"><feGaussianBlur stdDeviation="0.7"/></filter>
<filter id="b15" x="-5%" y="-10%" width="110%" height="120%"><feGaussianBlur stdDeviation="1.1"/></filter>
</defs>
<g id="fig3a">
<g clip-path="url(#ca)">
<rect x="54.0" y="1379.4" width="490.5" height="90" fill="#e8e8e8" filter="url(#nfine)"/>
<rect x="54.0" y="1530" width="490.5" height="112" fill="url(#gge)" filter="url(#nmott)"/>
<g filter="url(#b2)" opacity="0.55"><path d="M116 1627l30-4 8 14-34 4z" fill="#4a4a4a"/><ellipse cx="442" cy="1570" rx="10" ry="3.5" fill="#3a3a3a" transform="rotate(-18 442 1570)"/><ellipse cx="506" cy="1608" rx="7" ry="4" fill="#444" transform="rotate(30 506 1608)"/><ellipse cx="368" cy="1592" rx="12" ry="4" fill="#666" transform="rotate(25 368 1592)"/><ellipse cx="325" cy="1583" rx="9" ry="3" fill="#606060"/><ellipse cx="420" cy="1610" rx="22" ry="4" fill="#787878" transform="rotate(12 420 1610)"/><ellipse cx="250" cy="1600" rx="40" ry="9" fill="#c4c4c4"/><ellipse cx="95" cy="1600" rx="30" ry="14" fill="#bdbdbd"/></g>
<path d="M54.0 1524L200 1525L380 1522L470 1516L544.5 1508V1538L520 1541L500 1540.5L480 1542L450 1544.8L380 1546.5L200 1548.5L54.0 1550Z" fill="#838383" filter="url(#ngrain2)"/>
<path d="M54.0 1549.8L200 1548.4L380 1546.8L450 1545L480 1542L500 1540.3L520 1541.2L544.5 1538" fill="none" stroke="#555" stroke-width="1.3" opacity="0.85" filter="url(#b1)"/>
<g filter="url(#b1)"><path d="M54.0 1463.2C120 1461 160 1463.5 230 1462.5S330 1460.5 400 1461.2S500 1459.6 544.5 1460.2V1515C530 1521 510 1524 480 1526S420 1527.5 380 1528S300 1529 230 1530S120 1530.5 54.0 1531Z" fill="url(#gpt)" filter="url(#ngrain)"/></g>
<rect x="54.0" y="1639.4" width="490.5" height="230.3" fill="url(#gti)" filter="url(#ndark)"/>
<rect x="54.0" y="1638.9" width="490.5" height="2.4" fill="#060606" filter="url(#b1)"/>
</g>
<text x="69.5" y="1435.8" font-size="52.5">Fig. 3 (a)</text>
<text x="79.5" y="1827.7" font-size="33.3" font-weight="bold" fill="#fff">200 nm</text>
<rect x="95.4" y="1840.2" width="87.5" height="5.8" fill="#fff"/>
<text x="300.6" y="1777" font-size="27.5" font-family='"Liberation Serif", "DejaVu Serif", serif' fill="#fff" letter-spacing="1.8">⟨001⟩</text>
<path d="M335.2 1800.6V1841.5H376.7" fill="none" stroke="#fff" stroke-width="4.8" stroke-linejoin="miter"/><path d="M335.2 1789.6l6.5 12h-13zM387.7 1841.5l-12 -6.5v13z" fill="#fff"/>
<text x="399" y="1847.5" font-size="34.5" font-family='"Liberation Serif", "DejaVu Serif", serif' fill="#fff" letter-spacing="1.3" id="mb1">⟨110⟩</text><rect x="431.0" y="1817.3" width="18.0" height="1.6" fill="#fff"/>
<path d="M545.5 1459.5C553.9 1460.0 557.9 1463.5 557.9 1470.5V1495.2C557.9 1500.2 560.9 1503.7 568.9 1504.2C560.9 1504.7 557.9 1508.2 557.9 1513.2V1533.5C557.9 1540.5 553.9 1544.0 545.5 1544.5" fill="none" stroke="#111" stroke-width="2" stroke-linecap="round" stroke-dasharray="0.1 3.5"/><path d="M570.9 1504.2H576" stroke="#1a1a1a" stroke-width="1.5"/>
<path d="M545.5 1549.5C553.9 1550.0 557.9 1553.5 557.9 1560.5V1584.5C557.9 1589.5 560.9 1593.0 568.9 1593.5C560.9 1594.0 557.9 1597.5 557.9 1602.5V1626C557.9 1633 553.9 1636.5 545.5 1637" fill="none" stroke="#111" stroke-width="2" stroke-linecap="round" stroke-dasharray="0.1 3.5"/>
<path d="M545.5 1643C553.9 1643.5 557.9 1647 557.9 1654V1747.6C557.9 1752.6 560.9 1756.1 568.9 1756.6C560.9 1757.1 557.9 1760.6 557.9 1765.6V1858.5C557.9 1865.5 553.9 1869.0 545.5 1869.5" fill="none" stroke="#111" stroke-width="2" stroke-linecap="round" stroke-dasharray="0.1 3.5"/>
<text x="584.7" y="1510.4" font-size="23.4">Pt film</text>
<text x="582.0" y="1602.3" font-size="34.2">r-GeO<tspan dy="7.52" font-size="22.57">2</tspan></text>
<text x="577.6" y="1766.2" font-size="34.7">r-TiO<tspan dy="7.63" font-size="22.90">2</tspan></text>
</g>
<g id="fig3b">
<rect x="706.9" y="1368.8" width="466.8" height="501.2" fill="#000"/>
<ellipse cx="756.6" cy="1466.3" rx="9.0" ry="7.9" fill="url(#sg)" opacity="1.0" transform="rotate(-20 756.6 1466.3)"/>
<ellipse cx="924.3" cy="1467.4" rx="13.2" ry="13.2" fill="url(#sg)" opacity="1.0"/>
<ellipse cx="1090.3" cy="1468.3" rx="5.8" ry="6.9" fill="url(#sg)" opacity="1.0"/>
<ellipse cx="756.6" cy="1619.1" rx="10.4" ry="8.9" fill="url(#sg)" opacity="1.0"/>
<ellipse cx="923.1" cy="1620.3" rx="14.3" ry="14.3" fill="url(#sg)" opacity="1.0"/>
<ellipse cx="1089.1" cy="1621.4" rx="8.6" ry="7.4" fill="url(#sg)" opacity="1.0"/>
<ellipse cx="756" cy="1772.3" rx="9.2" ry="8.7" fill="url(#sg)" opacity="1.0"/>
<ellipse cx="922.3" cy="1772.9" rx="9.5" ry="9.5" fill="url(#sg)" opacity="1.0"/>
<ellipse cx="1089.4" cy="1774.6" rx="7.4" ry="7.4" fill="url(#sg)" opacity="1.0"/>
<text x="727.6" y="1414.3" font-size="39.7" fill="#fff">Fig. 3 (b)</text>
<text x="808.4" y="1807.2" font-size="25" font-family='"Liberation Serif", "DejaVu Serif", serif' fill="#fff" letter-spacing="1.7">⟨001⟩</text>
<path d="M836.6 1826.6V1847.1H857.3" fill="none" stroke="#fff" stroke-width="5.6" stroke-linejoin="miter"/><path d="M836.6 1816.6l7.0 11h-14zM867.3 1847.1l-11 -7.0v14z" fill="#fff"/>
<text x="875.3" y="1850.6" font-size="25" font-family='"Liberation Serif", "DejaVu Serif", serif' fill="#fff" letter-spacing="1.8" id="mb2">⟨110⟩</text><rect x="900.2" y="1828.7" width="13.1" height="1.2" fill="#fff"/>
<text x="1065" y="1843.4" font-size="31" font-weight="bold" fill="#fff">1 nm<tspan dy="-11.16" font-size="20.46">-1</tspan></text>
<rect x="1074.9" y="1855.1" width="75.1" height="5.5" fill="#fff"/>
</g>
<g id="fig3c">
<clipPath id="cc"><rect x="1215.1" y="1368.8" width="464.3" height="501.2"/></clipPath>
<rect x="1215.1" y="1368.8" width="464.3" height="501.2" fill="#000"/>
<g clip-path="url(#cc)">
<rect x="1215.1" y="1368.8" width="464.3" height="501.2" fill="#050505"/>
<circle cx="1427" cy="1623.8" r="300" fill="url(#halo)"/>
<g filter="url(#b15)"><path d="M1420.6 1617.6L1438.5 1614.6L1470 1605.5L1500 1597L1530 1594.3L1561.5 1593C1567 1590 1580 1580 1592 1575.5C1610 1571.5 1640 1570 1680 1568V1706L1640 1704.5C1610 1703 1590 1700 1577 1695L1561.5 1683L1523 1670.8L1477 1658.5L1438.5 1640L1420.6 1632.5Z" fill="url(#gst)"/></g>
<ellipse cx="1263.7" cy="1469.4" rx="13.9" ry="12.0" fill="url(#sg)" opacity="1.0"/>
<ellipse cx="1431.5" cy="1470.6" rx="12.2" ry="9.2" fill="url(#sg)" opacity="1.0"/>
<ellipse cx="1597.1" cy="1471.4" rx="7.2" ry="7.2" fill="url(#sg)" opacity="1.0"/>
<ellipse cx="1263.7" cy="1622.3" rx="14.4" ry="14.4" fill="url(#sg)" opacity="1.0"/>
<ellipse cx="1261.8" cy="1774.9" rx="13.2" ry="11.4" fill="url(#sg)" opacity="1.0"/>
<ellipse cx="1428.5" cy="1775.4" rx="12.5" ry="10.8" fill="url(#sg)" opacity="1.0"/>
<ellipse cx="1595.1" cy="1776.6" rx="7.8" ry="7.8" fill="url(#sg)" opacity="1.0"/>
<ellipse cx="1424" cy="1470.6" rx="9" ry="1.6" fill="#fff" opacity="0.5" filter="url(#b1)"/>
<circle cx="1263.7" cy="1451.7" r="2.2" fill="#bbb" opacity="0.6" filter="url(#b1)"/>
<circle cx="1597.7" cy="1455.1" r="2.2" fill="#bbb" opacity="0.6" filter="url(#b1)"/>
<circle cx="1263.7" cy="1792.8" r="2.2" fill="#bbb" opacity="0.6" filter="url(#b1)"/>
<circle cx="1598.9" cy="1792.8" r="2.2" fill="#bbb" opacity="0.6" filter="url(#b1)"/>
</g>
<ellipse cx="1263.7" cy="1451.7" rx="10.6" ry="10" fill="none" stroke="#e3262b" stroke-width="1.8"/>
<ellipse cx="1597.7" cy="1455.1" rx="10.6" ry="10" fill="none" stroke="#e3262b" stroke-width="1.8"/>
<ellipse cx="1263.7" cy="1792.8" rx="10.6" ry="10" fill="none" stroke="#e3262b" stroke-width="1.8"/>
<ellipse cx="1598.9" cy="1792.8" rx="10.6" ry="10" fill="none" stroke="#e3262b" stroke-width="1.8"/>
<text x="1223.6" y="1420.2" font-size="39.6" fill="#fff">Fig.3 (c)</text>
<text x="1545.6" y="1406.3" font-size="39.5" fill="#fff">r-GeO<tspan dy="8.69" font-size="26.07">2</tspan></text>
<text x="1548.6" y="1542.3" font-size="39.7" fill="#fff">r-TiO<tspan dy="8.73" font-size="26.20">2</tspan></text>
<path d="M1609.6 1414.8L1600.6 1443.2M1595.6 1432.8L1600.4 1443.6L1609.6 1437" stroke="#fff" stroke-width="2.8" fill="none" stroke-linejoin="miter"/>
<path d="M1597.7 1504.5V1478.5M1591.7 1488.8L1597.7 1478L1603.7 1488.8" stroke="#fff" stroke-width="2.8" fill="none" stroke-linejoin="miter"/>
<text x="1317" y="1807.2" font-size="25" font-family='"Liberation Serif", "DejaVu Serif", serif' fill="#fff" letter-spacing="1.7">⟨001⟩</text>
<path d="M1344.3 1827.7V1848.6H1365.3" fill="none" stroke="#fff" stroke-width="5.6" stroke-linejoin="miter"/><path d="M1344.3 1817.7l7.0 11h-14zM1375.3 1848.6l-11 -7.0v14z" fill="#fff"/>
<text x="1383.6" y="1852" font-size="25" font-family='"Liberation Serif", "DejaVu Serif", serif' fill="#fff" letter-spacing="1.8" id="mb3">⟨110⟩</text><rect x="1408.5" y="1830.1" width="13.1" height="1.2" fill="#fff"/>
<text x="1570.7" y="1843.4" font-size="31" font-weight="bold" fill="#fff">1 nm<tspan dy="-11.16" font-size="20.46">-1</tspan></text>
<rect x="1580.9" y="1855" width="75.4" height="5.6" fill="#fff"/>
</g>
<g id="captions">
<text x="23" y="1169.2" font-size="37.5">Fig. 1 XRD 2<tspan font-family='"Liberation Serif", "DejaVu Serif", serif'>θ</tspan>/<tspan font-family='"Liberation Serif", "DejaVu Serif", serif'>ω</tspan> scan profiles at different growth</text>
<text x="23" y="1214.0" font-size="37.5">temperature (<tspan font-style="italic">T</tspan><tspan dy="8.25" font-size="24.75">g</tspan><tspan dy="-8.25">=675-800 </tspan><tspan dy="-13.50" font-size="24.75">o</tspan><tspan dy="13.50">C). Reproduced with</tspan></text>
<text x="23" y="1258.8" font-size="37.5">permission from Appl. Phys. Lett. 119, 062104 (2021).</text>
<text x="23" y="1303.6" font-size="37.5">Copyright 2021, AIP Publishing.</text>
<text x="1032" y="1169.2" font-size="37.5">Fig. 2 Schematics of GeO desorption in (a) MBE</text>
<text x="1032" y="1214.0" font-size="37.5">and (b) mist CVD. Reproduced with permission</text>
<text x="1032" y="1258.8" font-size="37.5">from Appl. Phys. Lett. 119, 062104 (2021).</text>
<text x="1032" y="1303.6" font-size="37.5">Copyright 2021, AIP Publishing.</text>
<text x="53.2" y="1935.1" font-size="37.5">Fig. 3 (a) Cross-sectional TEM image at the r-GeO<tspan dy="8.25" font-size="24.75">2</tspan><tspan dy="-8.25">/r-TiO</tspan><tspan dy="8.25" font-size="24.75">2</tspan><tspan dy="-8.25"> interface viewed along the </tspan><tspan font-family='"Liberation Serif", "DejaVu Serif", serif' letter-spacing="0.035em">⟨110⟩</tspan> zone</text>
<text x="53.2" y="1980.2" font-size="37.5">axis. SAED patterns (b) at the r-TiO2 substrate and (c) at the interface. Both patterns are viewed</text>
<text x="53.2" y="2025.2" font-size="37.5">along the <tspan font-family='"Liberation Serif", "DejaVu Serif", serif' letter-spacing="0.035em">⟨110⟩</tspan> zone axis. Reproduced with permission from Appl. Phys. Lett. 119, 062104 (2021).</text>
<text x="53.2" y="2070.3" font-size="37.5">Copyright 2021, AIP Publishing.</text>
</g>
</svg>
</body></html>
